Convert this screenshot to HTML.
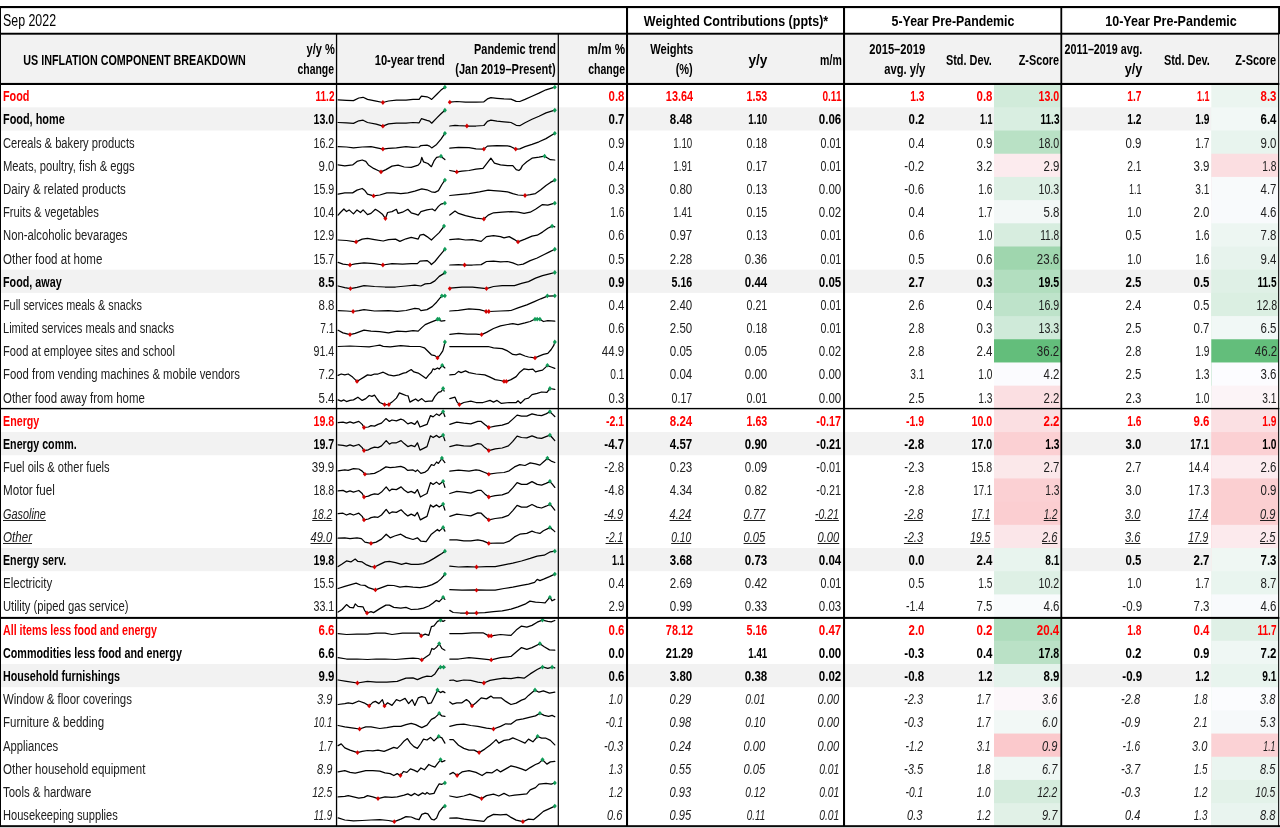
<!DOCTYPE html>
<html><head><meta charset="utf-8"><title>US Inflation Component Breakdown</title>
<style>
html,body{margin:0;padding:0;background:#fff;}
body{width:1280px;height:828px;position:relative;overflow:hidden;font-family:"Liberation Sans",Arial,sans-serif;font-size:14px;color:#202020;}
.a{position:absolute;}
.r{position:absolute;left:1px;width:1277px;height:23.2px;}
.g{background:#f2f2f2;}
.t{position:absolute;white-space:nowrap;line-height:16px;height:16px;}
.l{left:2.1px;transform-origin:0 50%;}
.n{text-align:right;transform-origin:100% 50%;}
.b{font-weight:bold;color:#000;}
.red{color:#f00;}
.i .n{font-style:italic;}
.iu .n,.iu .l{font-style:italic;text-decoration:underline;}
.z{position:absolute;top:0;height:23.2px;}
.h{position:absolute;white-space:nowrap;font-weight:bold;color:#000;text-align:right;line-height:16px;height:16px;transform-origin:100% 50%;}
.h1{position:absolute;white-space:nowrap;line-height:17px;height:17px;color:#000;}
svg{position:absolute;left:0;top:0;overflow:visible;}
</style></head><body>

<svg width="1280" height="828" viewBox="0 0 1280 828"><rect x="0.5" y="34.9" width="1278" height="47.6" fill="#f2f2f2"/><rect x="0.5" y="107.34" width="1278" height="23.19" fill="#f2f2f2"/><rect x="0.5" y="269.69" width="1278" height="23.19" fill="#f2f2f2"/><rect x="0.5" y="432.05" width="1278" height="23.19" fill="#f2f2f2"/><rect x="0.5" y="548.01" width="1278" height="23.19" fill="#f2f2f2"/><rect x="0.5" y="663.98" width="1278" height="23.19" fill="#f2f2f2"/><rect x="994" y="83.15" width="67" height="743.18" fill="#d1ebda"/><rect x="1211.3" y="83.15" width="67.2" height="743.18" fill="#ebf5f0"/><rect x="994" y="107.34" width="67" height="718.98" fill="#d9eee1"/><rect x="1211.3" y="107.34" width="67.2" height="718.98" fill="#f2f8f6"/><rect x="994" y="130.54" width="67" height="695.79" fill="#b9e1c5"/><rect x="1211.3" y="130.54" width="67.2" height="695.79" fill="#e8f4ee"/><rect x="994" y="153.73" width="67" height="672.60" fill="#fcebee"/><rect x="1211.3" y="153.73" width="67.2" height="672.60" fill="#fbdee1"/><rect x="994" y="176.92" width="67" height="649.40" fill="#def0e5"/><rect x="1211.3" y="176.92" width="67.2" height="649.40" fill="#f8fafb"/><rect x="994" y="200.12" width="67" height="626.21" fill="#f3f8f7"/><rect x="1211.3" y="200.12" width="67.2" height="626.21" fill="#f8fafc"/><rect x="994" y="223.31" width="67" height="603.02" fill="#d7eddf"/><rect x="1211.3" y="223.31" width="67.2" height="603.02" fill="#edf6f2"/><rect x="994" y="246.50" width="67" height="579.83" fill="#9fd6ae"/><rect x="1211.3" y="246.50" width="67.2" height="579.83" fill="#e7f3ed"/><rect x="994" y="269.69" width="67" height="556.63" fill="#b2debf"/><rect x="1211.3" y="269.69" width="67.2" height="556.63" fill="#dff0e6"/><rect x="994" y="292.89" width="67" height="533.44" fill="#bee3ca"/><rect x="1211.3" y="292.89" width="67.2" height="533.44" fill="#dbefe2"/><rect x="994" y="316.08" width="67" height="510.25" fill="#cfead9"/><rect x="1211.3" y="316.08" width="67.2" height="510.25" fill="#f1f8f6"/><rect x="994" y="339.27" width="67" height="487.05" fill="#63be7b"/><rect x="1211.3" y="339.27" width="67.2" height="487.05" fill="#63be7b"/><rect x="994" y="362.47" width="67" height="463.86" fill="#fbfbfe"/><rect x="1211.3" y="362.47" width="67.2" height="463.86" fill="#fcfcff"/><rect x="994" y="385.66" width="67" height="440.67" fill="#fbdfe2"/><rect x="1211.3" y="385.66" width="67.2" height="440.67" fill="#fcf4f7"/><rect x="994" y="408.85" width="67" height="417.47" fill="#fbdfe2"/><rect x="1211.3" y="408.85" width="67.2" height="417.47" fill="#fbe0e3"/><rect x="994" y="432.05" width="67" height="394.28" fill="#fbd0d3"/><rect x="1211.3" y="432.05" width="67.2" height="394.28" fill="#fbd0d3"/><rect x="994" y="455.24" width="67" height="371.09" fill="#fbe8ea"/><rect x="1211.3" y="455.24" width="67.2" height="371.09" fill="#fcecef"/><rect x="994" y="478.43" width="67" height="347.89" fill="#fbd0d3"/><rect x="1211.3" y="478.43" width="67.2" height="347.89" fill="#fbcfd1"/><rect x="994" y="501.62" width="67" height="324.70" fill="#fbced1"/><rect x="1211.3" y="501.62" width="67.2" height="324.70" fill="#fbcfd1"/><rect x="994" y="524.82" width="67" height="301.51" fill="#fbe6e9"/><rect x="1211.3" y="524.82" width="67.2" height="301.51" fill="#fceaed"/><rect x="994" y="548.01" width="67" height="278.32" fill="#e8f4ee"/><rect x="1211.3" y="548.01" width="67.2" height="278.32" fill="#eff7f3"/><rect x="994" y="571.20" width="67" height="255.12" fill="#def0e5"/><rect x="1211.3" y="571.20" width="67.2" height="255.12" fill="#e9f5ef"/><rect x="994" y="594.40" width="67" height="231.93" fill="#f9fbfc"/><rect x="1211.3" y="594.40" width="67.2" height="231.93" fill="#f8fafc"/><rect x="994" y="617.59" width="67" height="208.74" fill="#aedcbc"/><rect x="1211.3" y="617.59" width="67.2" height="208.74" fill="#dff0e6"/><rect x="994" y="640.78" width="67" height="185.54" fill="#bae1c6"/><rect x="1211.3" y="640.78" width="67.2" height="185.54" fill="#eff7f4"/><rect x="994" y="663.98" width="67" height="162.35" fill="#e4f2eb"/><rect x="1211.3" y="663.98" width="67.2" height="162.35" fill="#e8f4ee"/><rect x="994" y="687.17" width="67" height="139.16" fill="#fcf7fa"/><rect x="1211.3" y="687.17" width="67.2" height="139.16" fill="#fbfcfe"/><rect x="994" y="710.36" width="67" height="115.97" fill="#f2f8f6"/><rect x="1211.3" y="710.36" width="67.2" height="115.97" fill="#f6f9fa"/><rect x="994" y="733.55" width="67" height="92.77" fill="#fbc9cc"/><rect x="1211.3" y="733.55" width="67.2" height="92.77" fill="#fbd2d5"/><rect x="994" y="756.75" width="67" height="69.58" fill="#eff7f4"/><rect x="1211.3" y="756.75" width="67.2" height="69.58" fill="#eaf5f0"/><rect x="994" y="779.94" width="67" height="46.39" fill="#d5ecdd"/><rect x="1211.3" y="779.94" width="67.2" height="46.39" fill="#e3f2e9"/><rect x="994" y="803.13" width="67" height="23.19" fill="#e1f1e7"/><rect x="1211.3" y="803.13" width="67.2" height="23.19" fill="#e9f4ef"/></svg>
<div class="r b red" style="top:84.15px">
<span class="t l" style="top:3.85px;transform:scaleX(0.774)">Food</span>
<span class="t n" style="top:3.85px;right:943.8px;transform:scaleX(0.717)">11.2</span>
<span class="t n" style="top:3.85px;right:653.4px;transform:scaleX(0.817)">0.8</span>
<span class="t n" style="top:3.85px;right:585.3px;transform:scaleX(0.776)">13.64</span>
<span class="t n" style="top:3.85px;right:510.6px;transform:scaleX(0.760)">1.53</span>
<span class="t n" style="top:3.85px;right:437.0px;transform:scaleX(0.717)">0.11</span>
<span class="t n" style="top:3.85px;right:353.4px;transform:scaleX(0.729)">1.3</span>
<span class="t n" style="top:3.85px;right:285.7px;transform:scaleX(0.817)">0.8</span>
<span class="t n" style="top:3.85px;right:218.8px;transform:scaleX(0.760)">13.0</span>
<span class="t n" style="top:3.85px;right:136.2px;transform:scaleX(0.729)">1.7</span>
<span class="t n" style="top:3.85px;right:68.4px;transform:scaleX(0.642)">1.1</span>
<span class="t n" style="top:3.85px;right:1.2px;transform:scaleX(0.817)">8.3</span>
</div>
<div class="r b" style="top:107.34px">
<span class="t l" style="top:3.66px;transform:scaleX(0.778)">Food, home</span>
<span class="t n" style="top:3.66px;right:943.8px;transform:scaleX(0.760)">13.0</span>
<span class="t n" style="top:3.66px;right:653.4px;transform:scaleX(0.817)">0.7</span>
<span class="t n" style="top:3.66px;right:585.3px;transform:scaleX(0.822)">8.48</span>
<span class="t n" style="top:3.66px;right:510.6px;transform:scaleX(0.697)">1.10</span>
<span class="t n" style="top:3.66px;right:437.0px;transform:scaleX(0.822)">0.06</span>
<span class="t n" style="top:3.66px;right:353.4px;transform:scaleX(0.817)">0.2</span>
<span class="t n" style="top:3.66px;right:285.7px;transform:scaleX(0.642)">1.1</span>
<span class="t n" style="top:3.66px;right:218.8px;transform:scaleX(0.717)">11.3</span>
<span class="t n" style="top:3.66px;right:136.2px;transform:scaleX(0.729)">1.2</span>
<span class="t n" style="top:3.66px;right:68.4px;transform:scaleX(0.729)">1.9</span>
<span class="t n" style="top:3.66px;right:1.2px;transform:scaleX(0.817)">6.4</span>
</div>
<div class="r" style="top:130.54px">
<span class="t l" style="top:4.46px;transform:scaleX(0.798)">Cereals &amp; bakery products</span>
<span class="t n" style="top:4.46px;right:943.8px;transform:scaleX(0.760)">16.2</span>
<span class="t n" style="top:4.46px;right:653.4px;transform:scaleX(0.817)">0.9</span>
<span class="t n" style="top:4.46px;right:585.3px;transform:scaleX(0.697)">1.10</span>
<span class="t n" style="top:4.46px;right:510.6px;transform:scaleX(0.760)">0.18</span>
<span class="t n" style="top:4.46px;right:437.0px;transform:scaleX(0.760)">0.01</span>
<span class="t n" style="top:4.46px;right:353.4px;transform:scaleX(0.817)">0.4</span>
<span class="t n" style="top:4.46px;right:285.7px;transform:scaleX(0.817)">0.9</span>
<span class="t n" style="top:4.46px;right:218.8px;transform:scaleX(0.760)">18.0</span>
<span class="t n" style="top:4.46px;right:136.2px;transform:scaleX(0.817)">0.9</span>
<span class="t n" style="top:4.46px;right:68.4px;transform:scaleX(0.729)">1.7</span>
<span class="t n" style="top:4.46px;right:1.2px;transform:scaleX(0.817)">9.0</span>
</div>
<div class="r" style="top:153.73px">
<span class="t l" style="top:4.27px;transform:scaleX(0.803)">Meats, poultry, fish &amp; eggs</span>
<span class="t n" style="top:4.27px;right:943.8px;transform:scaleX(0.817)">9.0</span>
<span class="t n" style="top:4.27px;right:653.4px;transform:scaleX(0.817)">0.4</span>
<span class="t n" style="top:4.27px;right:585.3px;transform:scaleX(0.697)">1.91</span>
<span class="t n" style="top:4.27px;right:510.6px;transform:scaleX(0.760)">0.17</span>
<span class="t n" style="top:4.27px;right:437.0px;transform:scaleX(0.760)">0.01</span>
<span class="t n" style="top:4.27px;right:353.4px;transform:scaleX(0.821)">-0.2</span>
<span class="t n" style="top:4.27px;right:285.7px;transform:scaleX(0.817)">3.2</span>
<span class="t n" style="top:4.27px;right:218.8px;transform:scaleX(0.817)">2.9</span>
<span class="t n" style="top:4.27px;right:136.2px;transform:scaleX(0.729)">2.1</span>
<span class="t n" style="top:4.27px;right:68.4px;transform:scaleX(0.817)">3.9</span>
<span class="t n" style="top:4.27px;right:1.2px;transform:scaleX(0.729)">1.8</span>
</div>
<div class="r" style="top:176.92px">
<span class="t l" style="top:4.08px;transform:scaleX(0.818)">Dairy &amp; related products</span>
<span class="t n" style="top:4.08px;right:943.8px;transform:scaleX(0.760)">15.9</span>
<span class="t n" style="top:4.08px;right:653.4px;transform:scaleX(0.817)">0.3</span>
<span class="t n" style="top:4.08px;right:585.3px;transform:scaleX(0.822)">0.80</span>
<span class="t n" style="top:4.08px;right:510.6px;transform:scaleX(0.760)">0.13</span>
<span class="t n" style="top:4.08px;right:437.0px;transform:scaleX(0.822)">0.00</span>
<span class="t n" style="top:4.08px;right:353.4px;transform:scaleX(0.821)">-0.6</span>
<span class="t n" style="top:4.08px;right:285.7px;transform:scaleX(0.729)">1.6</span>
<span class="t n" style="top:4.08px;right:218.8px;transform:scaleX(0.760)">10.3</span>
<span class="t n" style="top:4.08px;right:136.2px;transform:scaleX(0.642)">1.1</span>
<span class="t n" style="top:4.08px;right:68.4px;transform:scaleX(0.729)">3.1</span>
<span class="t n" style="top:4.08px;right:1.2px;transform:scaleX(0.817)">4.7</span>
</div>
<div class="r" style="top:200.12px">
<span class="t l" style="top:3.88px;transform:scaleX(0.800)">Fruits &amp; vegetables</span>
<span class="t n" style="top:3.88px;right:943.8px;transform:scaleX(0.760)">10.4</span>
<span class="t n" style="top:3.88px;right:653.4px;transform:scaleX(0.729)">1.6</span>
<span class="t n" style="top:3.88px;right:585.3px;transform:scaleX(0.697)">1.41</span>
<span class="t n" style="top:3.88px;right:510.6px;transform:scaleX(0.760)">0.15</span>
<span class="t n" style="top:3.88px;right:437.0px;transform:scaleX(0.822)">0.02</span>
<span class="t n" style="top:3.88px;right:353.4px;transform:scaleX(0.817)">0.4</span>
<span class="t n" style="top:3.88px;right:285.7px;transform:scaleX(0.729)">1.7</span>
<span class="t n" style="top:3.88px;right:218.8px;transform:scaleX(0.817)">5.8</span>
<span class="t n" style="top:3.88px;right:136.2px;transform:scaleX(0.729)">1.0</span>
<span class="t n" style="top:3.88px;right:68.4px;transform:scaleX(0.817)">2.0</span>
<span class="t n" style="top:3.88px;right:1.2px;transform:scaleX(0.817)">4.6</span>
</div>
<div class="r" style="top:223.31px">
<span class="t l" style="top:3.69px;transform:scaleX(0.808)">Non-alcoholic bevarages</span>
<span class="t n" style="top:3.69px;right:943.8px;transform:scaleX(0.760)">12.9</span>
<span class="t n" style="top:3.69px;right:653.4px;transform:scaleX(0.817)">0.6</span>
<span class="t n" style="top:3.69px;right:585.3px;transform:scaleX(0.822)">0.97</span>
<span class="t n" style="top:3.69px;right:510.6px;transform:scaleX(0.760)">0.13</span>
<span class="t n" style="top:3.69px;right:437.0px;transform:scaleX(0.760)">0.01</span>
<span class="t n" style="top:3.69px;right:353.4px;transform:scaleX(0.817)">0.6</span>
<span class="t n" style="top:3.69px;right:285.7px;transform:scaleX(0.729)">1.0</span>
<span class="t n" style="top:3.69px;right:218.8px;transform:scaleX(0.725)">11.8</span>
<span class="t n" style="top:3.69px;right:136.2px;transform:scaleX(0.817)">0.5</span>
<span class="t n" style="top:3.69px;right:68.4px;transform:scaleX(0.729)">1.6</span>
<span class="t n" style="top:3.69px;right:1.2px;transform:scaleX(0.817)">7.8</span>
</div>
<div class="r" style="top:246.50px">
<span class="t l" style="top:4.50px;transform:scaleX(0.824)">Other food at home</span>
<span class="t n" style="top:4.50px;right:943.8px;transform:scaleX(0.760)">15.7</span>
<span class="t n" style="top:4.50px;right:653.4px;transform:scaleX(0.817)">0.5</span>
<span class="t n" style="top:4.50px;right:585.3px;transform:scaleX(0.822)">2.28</span>
<span class="t n" style="top:4.50px;right:510.6px;transform:scaleX(0.822)">0.36</span>
<span class="t n" style="top:4.50px;right:437.0px;transform:scaleX(0.760)">0.01</span>
<span class="t n" style="top:4.50px;right:353.4px;transform:scaleX(0.817)">0.5</span>
<span class="t n" style="top:4.50px;right:285.7px;transform:scaleX(0.817)">0.6</span>
<span class="t n" style="top:4.50px;right:218.8px;transform:scaleX(0.822)">23.6</span>
<span class="t n" style="top:4.50px;right:136.2px;transform:scaleX(0.729)">1.0</span>
<span class="t n" style="top:4.50px;right:68.4px;transform:scaleX(0.729)">1.6</span>
<span class="t n" style="top:4.50px;right:1.2px;transform:scaleX(0.817)">9.4</span>
</div>
<div class="r b" style="top:269.69px">
<span class="t l" style="top:4.31px;transform:scaleX(0.769)">Food, away</span>
<span class="t n" style="top:4.31px;right:943.8px;transform:scaleX(0.817)">8.5</span>
<span class="t n" style="top:4.31px;right:653.4px;transform:scaleX(0.817)">0.9</span>
<span class="t n" style="top:4.31px;right:585.3px;transform:scaleX(0.760)">5.16</span>
<span class="t n" style="top:4.31px;right:510.6px;transform:scaleX(0.822)">0.44</span>
<span class="t n" style="top:4.31px;right:437.0px;transform:scaleX(0.822)">0.05</span>
<span class="t n" style="top:4.31px;right:353.4px;transform:scaleX(0.817)">2.7</span>
<span class="t n" style="top:4.31px;right:285.7px;transform:scaleX(0.817)">0.3</span>
<span class="t n" style="top:4.31px;right:218.8px;transform:scaleX(0.760)">19.5</span>
<span class="t n" style="top:4.31px;right:136.2px;transform:scaleX(0.817)">2.5</span>
<span class="t n" style="top:4.31px;right:68.4px;transform:scaleX(0.817)">0.5</span>
<span class="t n" style="top:4.31px;right:1.2px;transform:scaleX(0.717)">11.5</span>
</div>
<div class="r" style="top:292.89px">
<span class="t l" style="top:4.11px;transform:scaleX(0.773)">Full services meals &amp; snacks</span>
<span class="t n" style="top:4.11px;right:943.8px;transform:scaleX(0.817)">8.8</span>
<span class="t n" style="top:4.11px;right:653.4px;transform:scaleX(0.817)">0.4</span>
<span class="t n" style="top:4.11px;right:585.3px;transform:scaleX(0.822)">2.40</span>
<span class="t n" style="top:4.11px;right:510.6px;transform:scaleX(0.760)">0.21</span>
<span class="t n" style="top:4.11px;right:437.0px;transform:scaleX(0.760)">0.01</span>
<span class="t n" style="top:4.11px;right:353.4px;transform:scaleX(0.817)">2.6</span>
<span class="t n" style="top:4.11px;right:285.7px;transform:scaleX(0.817)">0.4</span>
<span class="t n" style="top:4.11px;right:218.8px;transform:scaleX(0.760)">16.9</span>
<span class="t n" style="top:4.11px;right:136.2px;transform:scaleX(0.817)">2.4</span>
<span class="t n" style="top:4.11px;right:68.4px;transform:scaleX(0.817)">0.5</span>
<span class="t n" style="top:4.11px;right:1.2px;transform:scaleX(0.760)">12.8</span>
</div>
<div class="r" style="top:316.08px">
<span class="t l" style="top:3.92px;transform:scaleX(0.791)">Limited services meals and snacks</span>
<span class="t n" style="top:3.92px;right:943.8px;transform:scaleX(0.729)">7.1</span>
<span class="t n" style="top:3.92px;right:653.4px;transform:scaleX(0.817)">0.6</span>
<span class="t n" style="top:3.92px;right:585.3px;transform:scaleX(0.822)">2.50</span>
<span class="t n" style="top:3.92px;right:510.6px;transform:scaleX(0.760)">0.18</span>
<span class="t n" style="top:3.92px;right:437.0px;transform:scaleX(0.760)">0.01</span>
<span class="t n" style="top:3.92px;right:353.4px;transform:scaleX(0.817)">2.8</span>
<span class="t n" style="top:3.92px;right:285.7px;transform:scaleX(0.817)">0.3</span>
<span class="t n" style="top:3.92px;right:218.8px;transform:scaleX(0.760)">13.3</span>
<span class="t n" style="top:3.92px;right:136.2px;transform:scaleX(0.817)">2.5</span>
<span class="t n" style="top:3.92px;right:68.4px;transform:scaleX(0.817)">0.7</span>
<span class="t n" style="top:3.92px;right:1.2px;transform:scaleX(0.817)">6.5</span>
</div>
<div class="r" style="top:339.27px">
<span class="t l" style="top:3.73px;transform:scaleX(0.795)">Food at employee sites and school</span>
<span class="t n" style="top:3.73px;right:943.8px;transform:scaleX(0.760)">91.4</span>
<span class="t n" style="top:3.73px;right:653.4px;transform:scaleX(0.822)">44.9</span>
<span class="t n" style="top:3.73px;right:585.3px;transform:scaleX(0.822)">0.05</span>
<span class="t n" style="top:3.73px;right:510.6px;transform:scaleX(0.822)">0.05</span>
<span class="t n" style="top:3.73px;right:437.0px;transform:scaleX(0.822)">0.02</span>
<span class="t n" style="top:3.73px;right:353.4px;transform:scaleX(0.817)">2.8</span>
<span class="t n" style="top:3.73px;right:285.7px;transform:scaleX(0.817)">2.4</span>
<span class="t n" style="top:3.73px;right:218.8px;transform:scaleX(0.822)">36.2</span>
<span class="t n" style="top:3.73px;right:136.2px;transform:scaleX(0.817)">2.8</span>
<span class="t n" style="top:3.73px;right:68.4px;transform:scaleX(0.729)">1.9</span>
<span class="t n" style="top:3.73px;right:1.2px;transform:scaleX(0.822)">46.2</span>
</div>
<div class="r" style="top:362.47px">
<span class="t l" style="top:3.53px;transform:scaleX(0.810)">Food from vending machines &amp; mobile vendors</span>
<span class="t n" style="top:3.53px;right:943.8px;transform:scaleX(0.817)">7.2</span>
<span class="t n" style="top:3.53px;right:653.4px;transform:scaleX(0.729)">0.1</span>
<span class="t n" style="top:3.53px;right:585.3px;transform:scaleX(0.822)">0.04</span>
<span class="t n" style="top:3.53px;right:510.6px;transform:scaleX(0.822)">0.00</span>
<span class="t n" style="top:3.53px;right:437.0px;transform:scaleX(0.822)">0.00</span>
<span class="t n" style="top:3.53px;right:353.4px;transform:scaleX(0.729)">3.1</span>
<span class="t n" style="top:3.53px;right:285.7px;transform:scaleX(0.729)">1.0</span>
<span class="t n" style="top:3.53px;right:218.8px;transform:scaleX(0.817)">4.2</span>
<span class="t n" style="top:3.53px;right:136.2px;transform:scaleX(0.817)">2.5</span>
<span class="t n" style="top:3.53px;right:68.4px;transform:scaleX(0.729)">1.3</span>
<span class="t n" style="top:3.53px;right:1.2px;transform:scaleX(0.817)">3.6</span>
</div>
<div class="r" style="top:385.66px">
<span class="t l" style="top:4.34px;transform:scaleX(0.817)">Other food away from home</span>
<span class="t n" style="top:4.34px;right:943.8px;transform:scaleX(0.817)">5.4</span>
<span class="t n" style="top:4.34px;right:653.4px;transform:scaleX(0.817)">0.3</span>
<span class="t n" style="top:4.34px;right:585.3px;transform:scaleX(0.760)">0.17</span>
<span class="t n" style="top:4.34px;right:510.6px;transform:scaleX(0.760)">0.01</span>
<span class="t n" style="top:4.34px;right:437.0px;transform:scaleX(0.822)">0.00</span>
<span class="t n" style="top:4.34px;right:353.4px;transform:scaleX(0.817)">2.5</span>
<span class="t n" style="top:4.34px;right:285.7px;transform:scaleX(0.729)">1.3</span>
<span class="t n" style="top:4.34px;right:218.8px;transform:scaleX(0.817)">2.2</span>
<span class="t n" style="top:4.34px;right:136.2px;transform:scaleX(0.817)">2.3</span>
<span class="t n" style="top:4.34px;right:68.4px;transform:scaleX(0.729)">1.0</span>
<span class="t n" style="top:4.34px;right:1.2px;transform:scaleX(0.729)">3.1</span>
</div>
<div class="r b red" style="top:408.85px">
<span class="t l" style="top:4.15px;transform:scaleX(0.765)">Energy</span>
<span class="t n" style="top:4.15px;right:943.8px;transform:scaleX(0.760)">19.8</span>
<span class="t n" style="top:4.15px;right:653.4px;transform:scaleX(0.750)">-2.1</span>
<span class="t n" style="top:4.15px;right:585.3px;transform:scaleX(0.822)">8.24</span>
<span class="t n" style="top:4.15px;right:510.6px;transform:scaleX(0.760)">1.63</span>
<span class="t n" style="top:4.15px;right:437.0px;transform:scaleX(0.771)">-0.17</span>
<span class="t n" style="top:4.15px;right:353.4px;transform:scaleX(0.750)">-1.9</span>
<span class="t n" style="top:4.15px;right:285.7px;transform:scaleX(0.760)">10.0</span>
<span class="t n" style="top:4.15px;right:218.8px;transform:scaleX(0.817)">2.2</span>
<span class="t n" style="top:4.15px;right:136.2px;transform:scaleX(0.729)">1.6</span>
<span class="t n" style="top:4.15px;right:68.4px;transform:scaleX(0.817)">9.6</span>
<span class="t n" style="top:4.15px;right:1.2px;transform:scaleX(0.729)">1.9</span>
</div>
<div class="r b" style="top:432.05px">
<span class="t l" style="top:3.95px;transform:scaleX(0.763)">Energy comm.</span>
<span class="t n" style="top:3.95px;right:943.8px;transform:scaleX(0.760)">19.7</span>
<span class="t n" style="top:3.95px;right:653.4px;transform:scaleX(0.821)">-4.7</span>
<span class="t n" style="top:3.95px;right:585.3px;transform:scaleX(0.822)">4.57</span>
<span class="t n" style="top:3.95px;right:510.6px;transform:scaleX(0.822)">0.90</span>
<span class="t n" style="top:3.95px;right:437.0px;transform:scaleX(0.771)">-0.21</span>
<span class="t n" style="top:3.95px;right:353.4px;transform:scaleX(0.821)">-2.8</span>
<span class="t n" style="top:3.95px;right:285.7px;transform:scaleX(0.760)">17.0</span>
<span class="t n" style="top:3.95px;right:218.8px;transform:scaleX(0.729)">1.3</span>
<span class="t n" style="top:3.95px;right:136.2px;transform:scaleX(0.817)">3.0</span>
<span class="t n" style="top:3.95px;right:68.4px;transform:scaleX(0.697)">17.1</span>
<span class="t n" style="top:3.95px;right:1.2px;transform:scaleX(0.729)">1.0</span>
</div>
<div class="r" style="top:455.24px">
<span class="t l" style="top:3.76px;transform:scaleX(0.792)">Fuel oils &amp; other fuels</span>
<span class="t n" style="top:3.76px;right:943.8px;transform:scaleX(0.822)">39.9</span>
<span class="t n" style="top:3.76px;right:653.4px;transform:scaleX(0.821)">-2.8</span>
<span class="t n" style="top:3.76px;right:585.3px;transform:scaleX(0.822)">0.23</span>
<span class="t n" style="top:3.76px;right:510.6px;transform:scaleX(0.822)">0.09</span>
<span class="t n" style="top:3.76px;right:437.0px;transform:scaleX(0.771)">-0.01</span>
<span class="t n" style="top:3.76px;right:353.4px;transform:scaleX(0.821)">-2.3</span>
<span class="t n" style="top:3.76px;right:285.7px;transform:scaleX(0.760)">15.8</span>
<span class="t n" style="top:3.76px;right:218.8px;transform:scaleX(0.817)">2.7</span>
<span class="t n" style="top:3.76px;right:136.2px;transform:scaleX(0.817)">2.7</span>
<span class="t n" style="top:3.76px;right:68.4px;transform:scaleX(0.760)">14.4</span>
<span class="t n" style="top:3.76px;right:1.2px;transform:scaleX(0.817)">2.6</span>
</div>
<div class="r" style="top:478.43px">
<span class="t l" style="top:3.57px;transform:scaleX(0.831)">Motor fuel</span>
<span class="t n" style="top:3.57px;right:943.8px;transform:scaleX(0.760)">18.8</span>
<span class="t n" style="top:3.57px;right:653.4px;transform:scaleX(0.821)">-4.8</span>
<span class="t n" style="top:3.57px;right:585.3px;transform:scaleX(0.822)">4.34</span>
<span class="t n" style="top:3.57px;right:510.6px;transform:scaleX(0.822)">0.82</span>
<span class="t n" style="top:3.57px;right:437.0px;transform:scaleX(0.771)">-0.21</span>
<span class="t n" style="top:3.57px;right:353.4px;transform:scaleX(0.821)">-2.8</span>
<span class="t n" style="top:3.57px;right:285.7px;transform:scaleX(0.697)">17.1</span>
<span class="t n" style="top:3.57px;right:218.8px;transform:scaleX(0.729)">1.3</span>
<span class="t n" style="top:3.57px;right:136.2px;transform:scaleX(0.817)">3.0</span>
<span class="t n" style="top:3.57px;right:68.4px;transform:scaleX(0.760)">17.3</span>
<span class="t n" style="top:3.57px;right:1.2px;transform:scaleX(0.817)">0.9</span>
</div>
<div class="r iu" style="top:501.62px">
<span class="t l" style="top:4.38px;transform:scaleX(0.776)">Gasoline</span>
<span class="t n" style="top:4.38px;right:945.6px;transform:scaleX(0.737)">18.2</span>
<span class="t n" style="top:4.38px;right:655.2px;transform:scaleX(0.796)">-4.9</span>
<span class="t n" style="top:4.38px;right:587.1px;transform:scaleX(0.797)">4.24</span>
<span class="t n" style="top:4.38px;right:512.4px;transform:scaleX(0.797)">0.77</span>
<span class="t n" style="top:4.38px;right:438.8px;transform:scaleX(0.748)">-0.21</span>
<span class="t n" style="top:4.38px;right:355.2px;transform:scaleX(0.796)">-2.8</span>
<span class="t n" style="top:4.38px;right:287.5px;transform:scaleX(0.676)">17.1</span>
<span class="t n" style="top:4.38px;right:220.6px;transform:scaleX(0.707)">1.2</span>
<span class="t n" style="top:4.38px;right:138.0px;transform:scaleX(0.792)">3.0</span>
<span class="t n" style="top:4.38px;right:70.2px;transform:scaleX(0.737)">17.4</span>
<span class="t n" style="top:4.38px;right:3.0px;transform:scaleX(0.792)">0.9</span>
</div>
<div class="r iu" style="top:524.82px">
<span class="t l" style="top:4.18px;transform:scaleX(0.828)">Other</span>
<span class="t n" style="top:4.18px;right:945.6px;transform:scaleX(0.797)">49.0</span>
<span class="t n" style="top:4.18px;right:655.2px;transform:scaleX(0.728)">-2.1</span>
<span class="t n" style="top:4.18px;right:587.1px;transform:scaleX(0.737)">0.10</span>
<span class="t n" style="top:4.18px;right:512.4px;transform:scaleX(0.797)">0.05</span>
<span class="t n" style="top:4.18px;right:438.8px;transform:scaleX(0.797)">0.00</span>
<span class="t n" style="top:4.18px;right:355.2px;transform:scaleX(0.796)">-2.3</span>
<span class="t n" style="top:4.18px;right:287.5px;transform:scaleX(0.737)">19.5</span>
<span class="t n" style="top:4.18px;right:220.6px;transform:scaleX(0.792)">2.6</span>
<span class="t n" style="top:4.18px;right:138.0px;transform:scaleX(0.792)">3.6</span>
<span class="t n" style="top:4.18px;right:70.2px;transform:scaleX(0.737)">17.9</span>
<span class="t n" style="top:4.18px;right:3.0px;transform:scaleX(0.792)">2.5</span>
</div>
<div class="r b" style="top:548.01px">
<span class="t l" style="top:3.99px;transform:scaleX(0.763)">Energy serv.</span>
<span class="t n" style="top:3.99px;right:943.8px;transform:scaleX(0.760)">19.8</span>
<span class="t n" style="top:3.99px;right:653.4px;transform:scaleX(0.642)">1.1</span>
<span class="t n" style="top:3.99px;right:585.3px;transform:scaleX(0.822)">3.68</span>
<span class="t n" style="top:3.99px;right:510.6px;transform:scaleX(0.822)">0.73</span>
<span class="t n" style="top:3.99px;right:437.0px;transform:scaleX(0.822)">0.04</span>
<span class="t n" style="top:3.99px;right:353.4px;transform:scaleX(0.817)">0.0</span>
<span class="t n" style="top:3.99px;right:285.7px;transform:scaleX(0.817)">2.4</span>
<span class="t n" style="top:3.99px;right:218.8px;transform:scaleX(0.729)">8.1</span>
<span class="t n" style="top:3.99px;right:136.2px;transform:scaleX(0.817)">0.5</span>
<span class="t n" style="top:3.99px;right:68.4px;transform:scaleX(0.817)">2.7</span>
<span class="t n" style="top:3.99px;right:1.2px;transform:scaleX(0.817)">7.3</span>
</div>
<div class="r" style="top:571.20px">
<span class="t l" style="top:3.80px;transform:scaleX(0.823)">Electricity</span>
<span class="t n" style="top:3.80px;right:943.8px;transform:scaleX(0.760)">15.5</span>
<span class="t n" style="top:3.80px;right:653.4px;transform:scaleX(0.817)">0.4</span>
<span class="t n" style="top:3.80px;right:585.3px;transform:scaleX(0.822)">2.69</span>
<span class="t n" style="top:3.80px;right:510.6px;transform:scaleX(0.822)">0.42</span>
<span class="t n" style="top:3.80px;right:437.0px;transform:scaleX(0.760)">0.01</span>
<span class="t n" style="top:3.80px;right:353.4px;transform:scaleX(0.817)">0.5</span>
<span class="t n" style="top:3.80px;right:285.7px;transform:scaleX(0.729)">1.5</span>
<span class="t n" style="top:3.80px;right:218.8px;transform:scaleX(0.760)">10.2</span>
<span class="t n" style="top:3.80px;right:136.2px;transform:scaleX(0.729)">1.0</span>
<span class="t n" style="top:3.80px;right:68.4px;transform:scaleX(0.729)">1.7</span>
<span class="t n" style="top:3.80px;right:1.2px;transform:scaleX(0.817)">8.7</span>
</div>
<div class="r" style="top:594.40px">
<span class="t l" style="top:3.60px;transform:scaleX(0.802)">Utility (piped gas service)</span>
<span class="t n" style="top:3.60px;right:943.8px;transform:scaleX(0.760)">33.1</span>
<span class="t n" style="top:3.60px;right:653.4px;transform:scaleX(0.817)">2.9</span>
<span class="t n" style="top:3.60px;right:585.3px;transform:scaleX(0.822)">0.99</span>
<span class="t n" style="top:3.60px;right:510.6px;transform:scaleX(0.822)">0.33</span>
<span class="t n" style="top:3.60px;right:437.0px;transform:scaleX(0.822)">0.03</span>
<span class="t n" style="top:3.60px;right:353.4px;transform:scaleX(0.750)">-1.4</span>
<span class="t n" style="top:3.60px;right:285.7px;transform:scaleX(0.817)">7.5</span>
<span class="t n" style="top:3.60px;right:218.8px;transform:scaleX(0.817)">4.6</span>
<span class="t n" style="top:3.60px;right:136.2px;transform:scaleX(0.821)">-0.9</span>
<span class="t n" style="top:3.60px;right:68.4px;transform:scaleX(0.817)">7.3</span>
<span class="t n" style="top:3.60px;right:1.2px;transform:scaleX(0.817)">4.6</span>
</div>
<div class="r b red" style="top:617.59px">
<span class="t l" style="top:4.41px;transform:scaleX(0.761)">All items less food and energy</span>
<span class="t n" style="top:4.41px;right:943.8px;transform:scaleX(0.817)">6.6</span>
<span class="t n" style="top:4.41px;right:653.4px;transform:scaleX(0.817)">0.6</span>
<span class="t n" style="top:4.41px;right:585.3px;transform:scaleX(0.776)">78.12</span>
<span class="t n" style="top:4.41px;right:510.6px;transform:scaleX(0.760)">5.16</span>
<span class="t n" style="top:4.41px;right:437.0px;transform:scaleX(0.822)">0.47</span>
<span class="t n" style="top:4.41px;right:353.4px;transform:scaleX(0.817)">2.0</span>
<span class="t n" style="top:4.41px;right:285.7px;transform:scaleX(0.817)">0.2</span>
<span class="t n" style="top:4.41px;right:218.8px;transform:scaleX(0.822)">20.4</span>
<span class="t n" style="top:4.41px;right:136.2px;transform:scaleX(0.729)">1.8</span>
<span class="t n" style="top:4.41px;right:68.4px;transform:scaleX(0.817)">0.4</span>
<span class="t n" style="top:4.41px;right:1.2px;transform:scaleX(0.717)">11.7</span>
</div>
<div class="r b" style="top:640.78px">
<span class="t l" style="top:4.22px;transform:scaleX(0.769)">Commodities less food and energy</span>
<span class="t n" style="top:4.22px;right:943.8px;transform:scaleX(0.817)">6.6</span>
<span class="t n" style="top:4.22px;right:653.4px;transform:scaleX(0.817)">0.0</span>
<span class="t n" style="top:4.22px;right:585.3px;transform:scaleX(0.776)">21.29</span>
<span class="t n" style="top:4.22px;right:510.6px;transform:scaleX(0.697)">1.41</span>
<span class="t n" style="top:4.22px;right:437.0px;transform:scaleX(0.822)">0.00</span>
<span class="t n" style="top:4.22px;right:353.4px;transform:scaleX(0.821)">-0.3</span>
<span class="t n" style="top:4.22px;right:285.7px;transform:scaleX(0.817)">0.4</span>
<span class="t n" style="top:4.22px;right:218.8px;transform:scaleX(0.760)">17.8</span>
<span class="t n" style="top:4.22px;right:136.2px;transform:scaleX(0.817)">0.2</span>
<span class="t n" style="top:4.22px;right:68.4px;transform:scaleX(0.817)">0.9</span>
<span class="t n" style="top:4.22px;right:1.2px;transform:scaleX(0.817)">7.2</span>
</div>
<div class="r b" style="top:663.98px">
<span class="t l" style="top:4.02px;transform:scaleX(0.767)">Household furnishings</span>
<span class="t n" style="top:4.02px;right:943.8px;transform:scaleX(0.817)">9.9</span>
<span class="t n" style="top:4.02px;right:653.4px;transform:scaleX(0.817)">0.6</span>
<span class="t n" style="top:4.02px;right:585.3px;transform:scaleX(0.822)">3.80</span>
<span class="t n" style="top:4.02px;right:510.6px;transform:scaleX(0.822)">0.38</span>
<span class="t n" style="top:4.02px;right:437.0px;transform:scaleX(0.822)">0.02</span>
<span class="t n" style="top:4.02px;right:353.4px;transform:scaleX(0.821)">-0.8</span>
<span class="t n" style="top:4.02px;right:285.7px;transform:scaleX(0.729)">1.2</span>
<span class="t n" style="top:4.02px;right:218.8px;transform:scaleX(0.817)">8.9</span>
<span class="t n" style="top:4.02px;right:136.2px;transform:scaleX(0.821)">-0.9</span>
<span class="t n" style="top:4.02px;right:68.4px;transform:scaleX(0.729)">1.2</span>
<span class="t n" style="top:4.02px;right:1.2px;transform:scaleX(0.729)">9.1</span>
</div>
<div class="r i" style="top:687.17px">
<span class="t l" style="top:3.83px;transform:scaleX(0.816)">Window &amp; floor coverings</span>
<span class="t n" style="top:3.83px;right:945.6px;transform:scaleX(0.792)">3.9</span>
<span class="t n" style="top:3.83px;right:655.2px;transform:scaleX(0.707)">1.0</span>
<span class="t n" style="top:3.83px;right:587.1px;transform:scaleX(0.797)">0.29</span>
<span class="t n" style="top:3.83px;right:512.4px;transform:scaleX(0.737)">0.01</span>
<span class="t n" style="top:3.83px;right:438.8px;transform:scaleX(0.797)">0.00</span>
<span class="t n" style="top:3.83px;right:355.2px;transform:scaleX(0.796)">-2.3</span>
<span class="t n" style="top:3.83px;right:287.5px;transform:scaleX(0.707)">1.7</span>
<span class="t n" style="top:3.83px;right:220.6px;transform:scaleX(0.792)">3.6</span>
<span class="t n" style="top:3.83px;right:138.0px;transform:scaleX(0.796)">-2.8</span>
<span class="t n" style="top:3.83px;right:70.2px;transform:scaleX(0.707)">1.8</span>
<span class="t n" style="top:3.83px;right:3.0px;transform:scaleX(0.792)">3.8</span>
</div>
<div class="r i" style="top:710.36px">
<span class="t l" style="top:3.64px;transform:scaleX(0.822)">Furniture &amp; bedding</span>
<span class="t n" style="top:3.64px;right:945.6px;transform:scaleX(0.676)">10.1</span>
<span class="t n" style="top:3.64px;right:655.2px;transform:scaleX(0.728)">-0.1</span>
<span class="t n" style="top:3.64px;right:587.1px;transform:scaleX(0.797)">0.98</span>
<span class="t n" style="top:3.64px;right:512.4px;transform:scaleX(0.737)">0.10</span>
<span class="t n" style="top:3.64px;right:438.8px;transform:scaleX(0.797)">0.00</span>
<span class="t n" style="top:3.64px;right:355.2px;transform:scaleX(0.796)">-0.3</span>
<span class="t n" style="top:3.64px;right:287.5px;transform:scaleX(0.707)">1.7</span>
<span class="t n" style="top:3.64px;right:220.6px;transform:scaleX(0.792)">6.0</span>
<span class="t n" style="top:3.64px;right:138.0px;transform:scaleX(0.796)">-0.9</span>
<span class="t n" style="top:3.64px;right:70.2px;transform:scaleX(0.707)">2.1</span>
<span class="t n" style="top:3.64px;right:3.0px;transform:scaleX(0.792)">5.3</span>
</div>
<div class="r i" style="top:733.55px">
<span class="t l" style="top:4.45px;transform:scaleX(0.804)">Appliances</span>
<span class="t n" style="top:4.45px;right:945.6px;transform:scaleX(0.707)">1.7</span>
<span class="t n" style="top:4.45px;right:655.2px;transform:scaleX(0.796)">-0.3</span>
<span class="t n" style="top:4.45px;right:587.1px;transform:scaleX(0.797)">0.24</span>
<span class="t n" style="top:4.45px;right:512.4px;transform:scaleX(0.797)">0.00</span>
<span class="t n" style="top:4.45px;right:438.8px;transform:scaleX(0.797)">0.00</span>
<span class="t n" style="top:4.45px;right:355.2px;transform:scaleX(0.728)">-1.2</span>
<span class="t n" style="top:4.45px;right:287.5px;transform:scaleX(0.707)">3.1</span>
<span class="t n" style="top:4.45px;right:220.6px;transform:scaleX(0.792)">0.9</span>
<span class="t n" style="top:4.45px;right:138.0px;transform:scaleX(0.728)">-1.6</span>
<span class="t n" style="top:4.45px;right:70.2px;transform:scaleX(0.792)">3.0</span>
<span class="t n" style="top:4.45px;right:3.0px;transform:scaleX(0.623)">1.1</span>
</div>
<div class="r i" style="top:756.75px">
<span class="t l" style="top:4.25px;transform:scaleX(0.824)">Other household equipment</span>
<span class="t n" style="top:4.25px;right:945.6px;transform:scaleX(0.792)">8.9</span>
<span class="t n" style="top:4.25px;right:655.2px;transform:scaleX(0.707)">1.3</span>
<span class="t n" style="top:4.25px;right:587.1px;transform:scaleX(0.797)">0.55</span>
<span class="t n" style="top:4.25px;right:512.4px;transform:scaleX(0.797)">0.05</span>
<span class="t n" style="top:4.25px;right:438.8px;transform:scaleX(0.737)">0.01</span>
<span class="t n" style="top:4.25px;right:355.2px;transform:scaleX(0.796)">-3.5</span>
<span class="t n" style="top:4.25px;right:287.5px;transform:scaleX(0.707)">1.8</span>
<span class="t n" style="top:4.25px;right:220.6px;transform:scaleX(0.792)">6.7</span>
<span class="t n" style="top:4.25px;right:138.0px;transform:scaleX(0.796)">-3.7</span>
<span class="t n" style="top:4.25px;right:70.2px;transform:scaleX(0.707)">1.5</span>
<span class="t n" style="top:4.25px;right:3.0px;transform:scaleX(0.792)">8.5</span>
</div>
<div class="r i" style="top:779.94px">
<span class="t l" style="top:4.06px;transform:scaleX(0.816)">Tools &amp; hardware</span>
<span class="t n" style="top:4.06px;right:945.6px;transform:scaleX(0.737)">12.5</span>
<span class="t n" style="top:4.06px;right:655.2px;transform:scaleX(0.707)">1.2</span>
<span class="t n" style="top:4.06px;right:587.1px;transform:scaleX(0.797)">0.93</span>
<span class="t n" style="top:4.06px;right:512.4px;transform:scaleX(0.737)">0.12</span>
<span class="t n" style="top:4.06px;right:438.8px;transform:scaleX(0.737)">0.01</span>
<span class="t n" style="top:4.06px;right:355.2px;transform:scaleX(0.728)">-0.1</span>
<span class="t n" style="top:4.06px;right:287.5px;transform:scaleX(0.707)">1.0</span>
<span class="t n" style="top:4.06px;right:220.6px;transform:scaleX(0.737)">12.2</span>
<span class="t n" style="top:4.06px;right:138.0px;transform:scaleX(0.796)">-0.3</span>
<span class="t n" style="top:4.06px;right:70.2px;transform:scaleX(0.707)">1.2</span>
<span class="t n" style="top:4.06px;right:3.0px;transform:scaleX(0.737)">10.5</span>
</div>
<div class="r i" style="top:803.13px">
<span class="t l" style="top:3.87px;transform:scaleX(0.793)">Housekeeping supplies</span>
<span class="t n" style="top:3.87px;right:945.6px;transform:scaleX(0.703)">11.9</span>
<span class="t n" style="top:3.87px;right:655.2px;transform:scaleX(0.792)">0.6</span>
<span class="t n" style="top:3.87px;right:587.1px;transform:scaleX(0.797)">0.95</span>
<span class="t n" style="top:3.87px;right:512.4px;transform:scaleX(0.703)">0.11</span>
<span class="t n" style="top:3.87px;right:438.8px;transform:scaleX(0.737)">0.01</span>
<span class="t n" style="top:3.87px;right:355.2px;transform:scaleX(0.792)">0.3</span>
<span class="t n" style="top:3.87px;right:287.5px;transform:scaleX(0.707)">1.2</span>
<span class="t n" style="top:3.87px;right:220.6px;transform:scaleX(0.792)">9.7</span>
<span class="t n" style="top:3.87px;right:138.0px;transform:scaleX(0.792)">0.4</span>
<span class="t n" style="top:3.87px;right:70.2px;transform:scaleX(0.707)">1.3</span>
<span class="t n" style="top:3.87px;right:3.0px;transform:scaleX(0.792)">8.8</span>
</div>
<svg width="1280" height="828" viewBox="0 0 1280 828"><polyline points="338.1,99.8 346.5,100.3 353.5,100.6 358.8,98.0 363.1,97.3 367.5,99.4 376.2,101.2 382.9,102.5 388.5,101.0 396.4,100.1 406.0,100.1 413.0,99.4 419.1,99.4 421.4,96.2 427.0,96.8 429.6,98.0 431.7,99.4 436.6,94.5 441.0,90.1 444.9,87.2" fill="none" stroke="#000" stroke-width="1.25" stroke-linejoin="round" stroke-linecap="round"/><path d="M380.9 102.5L382.9 100.1L384.9 102.5L382.9 105.0Z" fill="#d60000"/><path d="M442.9 87.2L444.9 84.8L446.9 87.2L444.9 89.6Z" fill="#109c58"/><polyline points="449.8,102.2 456.8,101.5 465.5,102.2 476.0,102.2 483.9,101.8 487.4,98.9 490.9,97.7 497.0,98.3 504.0,98.9 511.0,99.2 516.2,101.3 519.8,101.5 525.0,99.4 532.0,96.2 539.0,93.1 546.0,89.8 554.8,87.2" fill="none" stroke="#000" stroke-width="1.25" stroke-linejoin="round" stroke-linecap="round"/><path d="M447.8 102.2L449.8 99.8L451.8 102.2L449.8 104.6Z" fill="#d60000"/><path d="M552.8 87.2L554.8 84.8L556.8 87.2L554.8 89.6Z" fill="#109c58"/><polyline points="338.1,122.5 346.5,122.8 353.5,123.4 358.8,120.8 363.1,120.2 367.5,122.5 376.2,124.2 382.9,126.2 388.5,123.9 396.4,123.2 406.0,123.2 413.0,122.5 419.1,122.8 421.4,118.7 427.0,120.4 429.6,121.1 431.7,123.2 436.6,118.1 441.0,113.8 444.9,110.2" fill="none" stroke="#000" stroke-width="1.25" stroke-linejoin="round" stroke-linecap="round"/><path d="M380.9 126.2L382.9 123.8L384.9 126.2L382.9 128.6Z" fill="#d60000"/><path d="M442.9 110.2L444.9 107.8L446.9 110.2L444.9 112.7Z" fill="#109c58"/><polyline points="449.8,126.0 455.0,125.3 458.5,125.7 466.9,126.0 476.0,126.0 483.9,125.5 487.4,121.3 490.9,120.2 497.0,121.1 504.0,121.8 511.0,122.5 516.2,125.3 519.8,125.7 525.0,122.8 532.0,119.3 539.0,116.2 546.0,112.9 554.8,110.2" fill="none" stroke="#000" stroke-width="1.25" stroke-linejoin="round" stroke-linecap="round"/><path d="M464.9 126.0L466.9 123.6L468.9 126.0L466.9 128.4Z" fill="#d60000"/><path d="M552.8 110.2L554.8 107.8L556.8 110.2L554.8 112.7Z" fill="#109c58"/><polyline points="338.1,146.7 346.5,147.0 353.5,147.9 362.2,147.0 371.0,146.7 382.9,149.1 388.5,148.4 396.4,147.9 406.0,146.7 413.0,147.3 419.1,147.0 420.9,145.6 427.0,145.2 429.6,146.1 431.7,147.9 436.6,144.4 441.0,139.1 444.9,133.3" fill="none" stroke="#000" stroke-width="1.25" stroke-linejoin="round" stroke-linecap="round"/><path d="M380.9 149.1L382.9 146.7L384.9 149.1L382.9 151.5Z" fill="#d60000"/><path d="M442.9 133.3L444.9 130.9L446.9 133.3L444.9 135.8Z" fill="#109c58"/><polyline points="449.8,148.1 458.5,147.3 469.0,147.7 476.0,148.8 483.9,149.1 487.4,146.1 497.0,145.6 507.5,145.9 511.0,146.7 515.7,149.1 519.8,148.8 525.0,146.7 532.0,144.4 539.0,141.8 546.0,138.6 554.8,133.3" fill="none" stroke="#000" stroke-width="1.25" stroke-linejoin="round" stroke-linecap="round"/><path d="M481.9 149.1L483.9 146.7L485.9 149.1L483.9 151.5Z" fill="#d60000"/><path d="M513.7 149.1L515.7 146.7L517.7 149.1L515.7 151.5Z" fill="#d60000"/><path d="M552.8 133.3L554.8 130.9L556.8 133.3L554.8 135.8Z" fill="#109c58"/><polyline points="338.1,164.9 344.8,165.8 352.6,164.9 357.0,161.4 362.2,160.0 365.8,161.4 368.4,164.9 373.6,168.4 378.0,170.5 381.0,171.9 385.9,169.6 392.0,166.1 398.1,165.2 404.2,167.0 411.2,167.3 418.2,165.2 420.4,162.6 421.8,157.4 423.5,161.8 427.9,163.5 431.4,166.7 434.0,160.9 436.6,157.4 441.0,156.5 444.9,159.5" fill="none" stroke="#000" stroke-width="1.25" stroke-linejoin="round" stroke-linecap="round"/><path d="M379.0 171.9L381.0 169.5L383.0 171.9L381.0 174.3Z" fill="#d60000"/><path d="M439.0 156.2L441.0 153.8L443.0 156.2L441.0 158.6Z" fill="#109c58"/><polyline points="449.8,170.5 456.8,171.9 462.0,171.2 469.0,170.5 476.0,169.1 483.0,168.4 486.5,163.8 490.9,158.2 494.4,163.2 500.5,164.9 507.5,165.6 512.8,165.6 516.2,169.6 518.9,170.5 520.6,169.1 522.4,165.6 526.8,161.8 532.0,158.2 539.0,157.2 544.6,156.2 550.4,159.7 554.8,160.0" fill="none" stroke="#000" stroke-width="1.25" stroke-linejoin="round" stroke-linecap="round"/><path d="M454.8 171.9L456.8 169.5L458.8 171.9L456.8 174.3Z" fill="#d60000"/><path d="M542.6 156.2L544.6 153.8L546.6 156.2L544.6 158.6Z" fill="#109c58"/><polyline points="338.1,194.1 344.8,192.9 352.6,192.9 357.0,190.1 362.2,188.5 364.9,190.6 367.5,194.1 373.6,195.9 379.8,195.0 386.8,192.9 393.8,192.9 400.8,193.6 407.8,192.9 414.8,191.2 421.8,188.9 427.0,189.8 431.4,191.8 434.9,192.4 438.4,190.6 441.9,184.5 444.9,180.1" fill="none" stroke="#000" stroke-width="1.25" stroke-linejoin="round" stroke-linecap="round"/><path d="M371.6 195.9L373.6 193.5L375.6 195.9L373.6 198.3Z" fill="#d60000"/><path d="M442.9 180.1L444.9 177.7L446.9 180.1L444.9 182.5Z" fill="#109c58"/><polyline points="449.8,195.5 458.5,194.7 469.0,193.6 479.5,191.8 488.2,190.1 493.5,190.6 500.5,191.2 507.5,191.8 512.8,193.6 518.0,195.0 525.0,195.5 530.2,194.7 535.5,193.6 540.8,189.8 546.0,185.4 550.4,182.4 554.8,180.1" fill="none" stroke="#000" stroke-width="1.25" stroke-linejoin="round" stroke-linecap="round"/><path d="M523.0 195.5L525.0 193.1L527.0 195.5L525.0 197.9Z" fill="#d60000"/><path d="M552.8 180.1L554.8 177.7L556.8 180.1L554.8 182.5Z" fill="#109c58"/><polyline points="338.1,215.1 340.4,212.5 343.9,209.0 346.5,211.6 349.1,209.9 353.5,213.9 357.0,209.9 360.5,212.5 363.1,209.9 367.5,214.6 371.0,213.4 375.4,209.3 378.9,211.6 382.4,214.2 385.4,218.6 387.6,212.5 392.0,211.6 396.4,209.3 398.1,213.4 402.5,212.2 407.8,209.3 411.2,212.8 415.6,214.2 418.2,215.1 420.9,211.6 427.0,209.9 432.2,209.0 434.9,210.8 438.4,206.4 441.0,204.1 444.9,203.2" fill="none" stroke="#000" stroke-width="1.25" stroke-linejoin="round" stroke-linecap="round"/><path d="M383.4 218.6L385.4 216.2L387.4 218.6L385.4 221.0Z" fill="#d60000"/><path d="M442.9 203.2L444.9 200.8L446.9 203.2L444.9 205.6Z" fill="#109c58"/><polyline points="449.8,215.1 455.0,211.1 458.5,213.4 465.5,215.7 470.8,216.9 476.0,218.1 483.9,219.0 488.2,215.1 493.5,212.8 502.2,212.2 511.0,211.6 518.0,212.2 524.1,213.4 530.2,212.2 535.5,209.3 542.5,204.6 547.8,205.2 554.8,203.2" fill="none" stroke="#000" stroke-width="1.25" stroke-linejoin="round" stroke-linecap="round"/><path d="M481.9 219.0L483.9 216.6L485.9 219.0L483.9 221.4Z" fill="#d60000"/><path d="M552.8 203.2L554.8 200.8L556.8 203.2L554.8 205.6Z" fill="#109c58"/><polyline points="338.1,240.0 346.5,240.5 356.1,241.9 362.2,239.1 367.5,238.4 374.5,239.6 383.2,241.0 388.5,239.6 395.5,239.1 399.9,241.4 406.0,238.8 411.2,237.3 418.2,239.1 420.0,235.2 423.5,234.4 427.0,236.6 431.4,240.0 434.9,236.6 439.2,232.6 441.9,229.1 444.0,226.5" fill="none" stroke="#000" stroke-width="1.25" stroke-linejoin="round" stroke-linecap="round"/><path d="M354.1 241.9L356.1 239.5L358.1 241.9L356.1 244.3Z" fill="#d60000"/><path d="M442.0 226.1L444.0 223.7L446.0 226.1L444.0 228.5Z" fill="#109c58"/><polyline points="449.8,239.6 458.5,238.8 465.5,240.0 472.5,239.6 481.2,241.4 486.5,236.6 493.5,235.6 500.5,236.6 504.0,237.9 509.2,236.6 514.5,239.6 518.0,241.9 525.0,239.1 532.0,236.1 537.2,235.2 542.5,232.1 547.8,228.2 552.1,226.1 554.8,226.8" fill="none" stroke="#000" stroke-width="1.25" stroke-linejoin="round" stroke-linecap="round"/><path d="M516.0 241.9L518.0 239.5L520.0 241.9L518.0 244.3Z" fill="#d60000"/><path d="M550.1 226.1L552.1 223.7L554.1 226.1L552.1 228.5Z" fill="#109c58"/><polyline points="338.1,262.4 343.0,264.1 350.0,265.0 355.2,263.8 364.0,262.9 374.5,263.6 382.9,265.0 392.0,263.6 402.5,264.1 411.2,263.6 417.4,263.6 420.0,261.1 427.0,260.6 429.6,262.4 431.4,264.5 434.9,261.5 439.2,256.2 442.8,251.9 444.9,249.2" fill="none" stroke="#000" stroke-width="1.25" stroke-linejoin="round" stroke-linecap="round"/><path d="M348.0 265.0L350.0 262.6L352.0 265.0L350.0 267.4Z" fill="#d60000"/><path d="M380.9 265.0L382.9 262.6L384.9 265.0L382.9 267.4Z" fill="#d60000"/><path d="M442.9 249.2L444.9 246.8L446.9 249.2L444.9 251.7Z" fill="#109c58"/><polyline points="449.8,265.0 458.5,264.6 464.6,265.0 472.5,265.0 481.2,264.6 486.5,261.5 493.5,261.1 500.5,261.9 507.5,261.5 512.8,262.9 518.0,265.0 523.2,264.1 530.2,260.6 537.2,258.0 544.2,254.5 549.5,251.9 554.8,249.2" fill="none" stroke="#000" stroke-width="1.25" stroke-linejoin="round" stroke-linecap="round"/><path d="M462.6 265.0L464.6 262.6L466.6 265.0L464.6 267.4Z" fill="#d60000"/><path d="M552.8 249.2L554.8 246.8L556.8 249.2L554.8 251.7Z" fill="#109c58"/><polyline points="338.1,286.0 344.8,287.7 350.4,288.6 357.0,287.4 364.0,285.6 374.5,286.5 385.0,287.0 395.5,287.0 406.0,286.0 414.8,285.1 420.9,286.0 425.2,283.9 430.5,283.4 434.9,280.9 439.2,276.4 444.9,272.9" fill="none" stroke="#000" stroke-width="1.25" stroke-linejoin="round" stroke-linecap="round"/><path d="M348.4 288.6L350.4 286.2L352.4 288.6L350.4 291.0Z" fill="#d60000"/><path d="M442.9 272.5L444.9 270.1L446.9 272.5L444.9 274.9Z" fill="#109c58"/><polyline points="449.8,288.2 462.0,287.2 472.5,287.2 486.5,288.6 493.5,286.5 502.2,285.6 514.5,285.6 521.5,283.4 528.5,281.6 535.5,278.1 542.5,275.6 549.5,273.9 554.8,272.5" fill="none" stroke="#000" stroke-width="1.25" stroke-linejoin="round" stroke-linecap="round"/><path d="M447.8 288.6L449.8 286.2L451.8 288.6L449.8 291.0Z" fill="#d60000"/><path d="M484.5 288.6L486.5 286.2L488.5 288.6L486.5 291.0Z" fill="#d60000"/><path d="M552.8 272.5L554.8 270.1L556.8 272.5L554.8 274.9Z" fill="#109c58"/><polyline points="338.1,310.6 346.5,311.0 353.1,311.5 358.8,310.6 364.0,309.6 374.5,311.0 388.5,310.6 397.2,311.4 406.0,310.5 414.8,308.4 419.1,308.9 420.9,310.6 427.0,309.6 432.2,306.6 436.6,302.2 440.1,297.9 441.9,296.1 444.9,295.8" fill="none" stroke="#000" stroke-width="1.25" stroke-linejoin="round" stroke-linecap="round"/><path d="M351.1 311.5L353.1 309.1L355.1 311.5L353.1 313.9Z" fill="#d60000"/><path d="M439.9 295.8L441.9 293.4L443.9 295.8L441.9 298.2Z" fill="#109c58"/><path d="M442.9 295.8L444.9 293.4L446.9 295.8L444.9 298.2Z" fill="#109c58"/><polyline points="449.8,311.0 458.5,310.3 469.0,308.9 479.5,309.6 486.5,311.5 489.1,311.5 500.5,311.0 511.0,310.5 518.0,307.9 526.8,304.9 533.8,301.9 540.8,298.8 547.4,296.1 554.8,295.8" fill="none" stroke="#000" stroke-width="1.25" stroke-linejoin="round" stroke-linecap="round"/><path d="M484.1 311.5L486.1 309.1L488.1 311.5L486.1 313.9Z" fill="#d60000"/><path d="M486.8 311.5L488.8 309.1L490.8 311.5L488.8 313.9Z" fill="#d60000"/><path d="M545.4 295.8L547.4 293.4L549.4 295.8L547.4 298.2Z" fill="#109c58"/><path d="M552.8 295.8L554.8 293.4L556.8 295.8L554.8 298.2Z" fill="#109c58"/><polyline points="338.1,330.2 343.0,332.9 350.0,334.6 355.2,333.4 364.0,330.2 371.0,331.1 379.8,331.6 388.5,332.9 397.2,331.1 406.0,331.6 413.0,330.6 418.2,331.1 421.8,327.6 425.2,324.6 430.5,322.4 434.9,320.6 438.4,319.4 441.0,321.1 444.9,320.6" fill="none" stroke="#000" stroke-width="1.25" stroke-linejoin="round" stroke-linecap="round"/><path d="M348.0 334.6L350.0 332.2L352.0 334.6L350.0 337.0Z" fill="#d60000"/><path d="M435.5 319.2L437.5 316.8L439.5 319.2L437.5 321.6Z" fill="#109c58"/><path d="M437.2 319.2L439.2 316.8L441.2 319.2L439.2 321.6Z" fill="#109c58"/><polyline points="449.8,334.3 458.5,333.4 467.2,334.1 476.0,334.1 481.6,334.6 486.5,332.4 493.5,328.5 500.5,325.9 507.5,324.5 512.8,323.6 518.0,324.6 525.0,322.9 530.2,321.5 534.6,319.2 539.9,319.2 543.4,321.5 547.8,320.6 554.8,321.1" fill="none" stroke="#000" stroke-width="1.25" stroke-linejoin="round" stroke-linecap="round"/><path d="M479.6 334.6L481.6 332.2L483.6 334.6L481.6 337.0Z" fill="#d60000"/><path d="M533.0 319.2L535.0 316.8L537.0 319.2L535.0 321.6Z" fill="#109c58"/><path d="M535.2 319.2L537.2 316.8L539.2 319.2L537.2 321.6Z" fill="#109c58"/><path d="M537.9 319.2L539.9 316.8L541.9 319.2L539.9 321.6Z" fill="#109c58"/><polyline points="338.1,346.5 350.0,346.0 360.5,346.5 369.2,346.9 374.5,346.0 379.8,345.1 383.2,346.4 390.2,346.9 400.8,345.6 409.5,346.4 420.0,346.5 424.4,347.8 427.9,351.2 431.4,354.8 434.9,355.6 437.5,357.9 440.1,354.8 442.8,350.9 444.1,346.0 444.9,342.1" fill="none" stroke="#000" stroke-width="1.25" stroke-linejoin="round" stroke-linecap="round"/><path d="M435.5 357.9L437.5 355.5L439.5 357.9L437.5 360.3Z" fill="#d60000"/><path d="M442.9 342.0L444.9 339.6L446.9 342.0L444.9 344.4Z" fill="#109c58"/><polyline points="449.8,346.5 469.0,346.5 488.2,346.5 493.5,347.8 502.2,348.6 507.5,350.9 512.8,354.4 516.2,354.8 519.8,353.9 525.0,356.0 528.5,357.0 535.0,357.9 539.0,356.1 543.4,354.4 547.8,353.4 551.2,349.5 553.9,345.1 554.8,342.1" fill="none" stroke="#000" stroke-width="1.25" stroke-linejoin="round" stroke-linecap="round"/><path d="M533.0 357.9L535.0 355.5L537.0 357.9L535.0 360.3Z" fill="#d60000"/><path d="M552.8 342.0L554.8 339.6L556.8 342.0L554.8 344.4Z" fill="#109c58"/><polyline points="338.1,375.4 341.2,374.0 344.8,374.9 348.2,374.0 352.6,377.1 357.0,381.4 360.5,379.2 364.0,377.1 367.5,374.9 371.0,375.4 374.5,374.0 378.0,374.0 383.2,372.2 388.5,374.9 393.8,375.8 399.0,374.9 403.4,373.1 406.0,372.6 409.5,370.5 411.2,369.6 413.9,371.9 418.2,373.1 422.6,376.1 426.1,378.4 428.8,374.9 431.4,372.2 433.1,368.8 434.9,369.6 437.5,367.9 439.2,369.1 442.2,365.6 444.9,367.9" fill="none" stroke="#000" stroke-width="1.25" stroke-linejoin="round" stroke-linecap="round"/><path d="M355.0 381.4L357.0 379.0L359.0 381.4L357.0 383.8Z" fill="#d60000"/><path d="M440.2 365.2L442.2 362.9L444.2 365.2L442.2 367.6Z" fill="#109c58"/><polyline points="449.8,374.9 455.0,374.4 458.5,371.4 461.1,372.6 465.5,370.9 469.0,372.6 476.0,374.0 484.8,374.9 490.0,377.1 495.2,379.6 500.5,380.5 504.0,381.4 506.6,381.4 511.0,379.6 516.2,376.6 519.8,372.2 524.1,368.8 528.5,369.6 532.9,369.1 535.5,371.9 539.0,370.9 542.5,370.1 547.4,365.6 551.2,367.0 554.8,368.4" fill="none" stroke="#000" stroke-width="1.25" stroke-linejoin="round" stroke-linecap="round"/><path d="M502.0 381.4L504.0 379.0L506.0 381.4L504.0 383.8Z" fill="#d60000"/><path d="M504.3 381.4L506.3 379.0L508.3 381.4L506.3 383.8Z" fill="#d60000"/><path d="M545.4 365.2L547.4 362.9L549.4 365.2L547.4 367.6Z" fill="#109c58"/><polyline points="338.1,399.9 341.2,401.1 343.9,399.9 346.5,401.6 350.0,400.4 353.5,399.9 357.9,397.2 362.2,400.4 365.8,398.6 369.2,395.5 371.9,396.4 374.5,395.1 377.1,399.0 379.8,402.5 384.6,404.6 388.5,404.6 392.0,402.1 396.4,398.1 399.4,392.9 402.5,394.1 406.0,395.5 408.1,395.9 409.9,402.1 413.0,400.4 415.6,399.0 418.2,401.1 421.8,398.6 425.2,401.6 428.8,401.1 432.2,401.1 434.9,396.4 438.4,392.4 441.0,391.6 443.1,388.9 444.1,391.1" fill="none" stroke="#000" stroke-width="1.25" stroke-linejoin="round" stroke-linecap="round"/><path d="M382.6 404.6L384.6 402.2L386.6 404.6L384.6 407.0Z" fill="#d60000"/><path d="M386.9 404.6L388.9 402.2L390.9 404.6L388.9 407.0Z" fill="#d60000"/><path d="M441.1 388.5L443.1 386.1L445.1 388.5L443.1 390.9Z" fill="#109c58"/><polyline points="449.8,398.6 455.0,397.2 456.8,401.6 459.4,404.6 463.8,402.5 470.8,401.1 476.0,402.5 483.0,402.5 490.0,400.4 493.5,402.1 497.0,400.4 501.4,403.4 509.2,402.5 516.2,402.5 518.0,400.8 520.6,403.4 525.0,399.0 528.5,398.1 532.0,394.6 537.2,393.4 541.6,392.0 546.9,392.4 549.9,388.5 554.8,389.4" fill="none" stroke="#000" stroke-width="1.25" stroke-linejoin="round" stroke-linecap="round"/><path d="M457.4 404.6L459.4 402.2L461.4 404.6L459.4 407.0Z" fill="#d60000"/><path d="M547.9 388.5L549.9 386.1L551.9 388.5L549.9 390.9Z" fill="#109c58"/><polyline points="338.1,422.6 343.0,422.1 346.5,423.1 350.0,421.8 353.5,423.1 358.8,421.4 362.2,424.4 364.0,427.5 368.4,427.0 371.0,425.6 374.5,426.1 378.0,424.4 381.5,423.1 385.9,418.6 389.4,421.4 392.0,420.0 396.4,420.9 400.8,419.1 403.4,420.0 407.8,423.9 411.2,422.6 414.8,424.4 417.4,420.9 420.0,427.0 423.5,425.6 427.0,424.4 430.5,415.6 433.1,416.9 436.6,413.9 439.2,415.6 443.1,411.8 444.9,416.5" fill="none" stroke="#000" stroke-width="1.25" stroke-linejoin="round" stroke-linecap="round"/><path d="M362.0 427.5L364.0 425.1L366.0 427.5L364.0 429.9Z" fill="#d60000"/><path d="M441.1 411.6L443.1 409.2L445.1 411.6L443.1 414.0Z" fill="#109c58"/><polyline points="449.8,424.4 456.8,422.1 463.8,423.1 470.8,423.9 477.8,421.4 481.2,421.4 484.8,424.4 488.8,427.5 495.2,426.1 502.2,425.2 508.4,423.1 512.8,419.1 517.1,415.1 521.5,416.1 526.8,416.1 532.0,413.9 537.2,415.1 541.6,415.6 546.0,413.9 549.9,411.8 552.1,413.9 554.8,416.5" fill="none" stroke="#000" stroke-width="1.25" stroke-linejoin="round" stroke-linecap="round"/><path d="M486.8 427.5L488.8 425.1L490.8 427.5L488.8 429.9Z" fill="#d60000"/><path d="M547.9 411.6L549.9 409.2L551.9 411.6L549.9 414.0Z" fill="#109c58"/><polyline points="338.1,444.9 343.0,445.4 346.5,446.2 350.0,444.9 353.5,446.2 358.8,444.5 362.2,447.6 364.0,450.6 368.4,449.8 371.0,448.4 374.5,447.1 378.0,447.6 381.5,445.9 386.2,440.6 389.4,444.1 392.0,442.8 396.4,442.8 401.1,440.6 404.2,443.6 407.8,446.6 411.2,445.4 414.8,446.6 417.4,442.8 420.0,450.1 423.5,448.4 427.0,446.6 430.5,435.8 433.1,437.5 436.6,435.4 439.2,437.5 443.1,435.2 444.9,440.6" fill="none" stroke="#000" stroke-width="1.25" stroke-linejoin="round" stroke-linecap="round"/><path d="M362.0 450.6L364.0 448.2L366.0 450.6L364.0 453.0Z" fill="#d60000"/><path d="M441.1 435.1L443.1 432.7L445.1 435.1L443.1 437.4Z" fill="#109c58"/><polyline points="449.8,446.6 456.8,444.9 463.8,445.9 470.8,446.2 477.8,443.6 481.2,444.1 484.8,447.6 488.8,450.6 495.2,448.9 502.2,448.0 508.4,445.9 512.8,441.4 517.1,436.1 521.5,437.5 526.8,437.9 532.0,435.8 537.2,437.9 541.6,438.4 546.0,436.6 549.9,435.2 552.1,437.5 554.8,440.6" fill="none" stroke="#000" stroke-width="1.25" stroke-linejoin="round" stroke-linecap="round"/><path d="M486.8 450.6L488.8 448.2L490.8 450.6L488.8 453.0Z" fill="#d60000"/><path d="M547.9 435.1L549.9 432.7L551.9 435.1L549.9 437.4Z" fill="#109c58"/><polyline points="338.1,470.8 344.8,469.9 348.2,470.4 353.5,468.6 358.8,469.0 362.2,471.1 364.9,474.2 370.1,473.9 374.5,473.4 379.8,470.8 385.9,466.9 390.2,467.6 395.5,467.2 400.8,466.4 404.2,467.6 407.8,470.4 413.0,469.9 415.6,471.6 417.4,469.9 420.9,473.4 425.2,472.1 427.9,469.9 431.4,464.6 434.0,465.5 436.6,462.0 438.4,463.4 441.9,458.5 444.9,462.5" fill="none" stroke="#000" stroke-width="1.25" stroke-linejoin="round" stroke-linecap="round"/><path d="M362.9 474.2L364.9 471.9L366.9 474.2L364.9 476.6Z" fill="#d60000"/><path d="M439.9 458.1L441.9 455.8L443.9 458.1L441.9 460.5Z" fill="#109c58"/><polyline points="449.8,471.1 458.5,470.2 469.0,471.1 476.0,469.9 479.5,470.4 484.8,472.5 488.8,474.2 497.0,473.0 504.0,472.5 509.2,470.8 514.5,466.9 519.8,464.6 525.0,465.5 530.2,462.9 535.5,463.8 539.9,465.1 543.4,462.0 547.4,458.5 551.2,461.1 554.8,462.5" fill="none" stroke="#000" stroke-width="1.25" stroke-linejoin="round" stroke-linecap="round"/><path d="M486.8 474.2L488.8 471.9L490.8 474.2L488.8 476.6Z" fill="#d60000"/><path d="M545.4 458.1L547.4 455.8L549.4 458.1L547.4 460.5Z" fill="#109c58"/><polyline points="338.1,490.9 343.0,490.4 346.5,492.1 350.0,490.9 353.5,492.1 358.8,490.5 362.2,493.5 364.0,497.0 368.4,496.1 371.0,494.9 374.5,493.9 378.0,494.4 381.5,492.1 386.2,486.9 389.4,490.9 392.0,489.1 396.4,489.6 401.1,486.9 404.2,490.0 407.8,492.6 411.2,491.4 414.8,493.1 417.4,489.6 420.4,497.0 423.5,495.2 427.0,493.5 430.5,482.6 433.1,484.4 436.6,482.1 439.2,484.4 443.1,481.6 444.9,487.4" fill="none" stroke="#000" stroke-width="1.25" stroke-linejoin="round" stroke-linecap="round"/><path d="M362.0 497.0L364.0 494.6L366.0 497.0L364.0 499.4Z" fill="#d60000"/><path d="M441.1 481.2L443.1 478.9L445.1 481.2L443.1 483.6Z" fill="#109c58"/><polyline points="449.8,493.5 456.8,491.4 463.8,492.1 470.8,493.1 477.8,490.4 481.2,490.4 484.8,493.9 488.8,497.0 495.2,495.6 502.2,494.9 508.4,492.6 512.8,487.9 517.1,482.6 521.5,484.4 526.8,484.4 532.0,481.6 537.2,484.4 541.6,485.1 546.0,483.4 549.9,481.6 552.1,483.9 554.8,487.4" fill="none" stroke="#000" stroke-width="1.25" stroke-linejoin="round" stroke-linecap="round"/><path d="M486.8 497.0L488.8 494.6L490.8 497.0L488.8 499.4Z" fill="#d60000"/><path d="M547.9 481.2L549.9 478.9L551.9 481.2L549.9 483.6Z" fill="#109c58"/><polyline points="338.1,513.6 343.0,513.2 346.5,515.0 350.0,513.6 353.5,515.0 358.8,513.2 362.2,516.4 364.0,519.9 368.4,519.0 371.0,517.6 374.5,516.8 378.0,517.3 381.5,515.0 386.2,509.4 389.4,513.6 392.0,511.9 396.4,512.4 401.1,509.8 404.2,512.9 407.8,515.9 411.2,514.1 414.8,515.9 417.4,512.4 420.4,519.9 423.5,518.1 427.0,516.4 430.5,504.9 433.1,507.1 436.6,504.9 439.2,507.1 443.1,504.5 444.9,510.1" fill="none" stroke="#000" stroke-width="1.25" stroke-linejoin="round" stroke-linecap="round"/><path d="M362.0 519.9L364.0 517.5L366.0 519.9L364.0 522.3Z" fill="#d60000"/><path d="M441.1 504.1L443.1 501.8L445.1 504.1L443.1 506.5Z" fill="#109c58"/><polyline points="449.8,516.4 456.8,514.1 463.8,515.0 470.8,515.9 477.8,512.9 481.2,513.2 484.8,516.8 488.8,519.9 495.2,518.5 502.2,517.6 508.4,515.4 512.8,510.6 517.1,505.4 521.5,507.1 526.8,507.1 532.0,504.5 537.2,507.1 541.6,508.0 546.0,506.2 549.9,504.5 552.1,506.6 554.8,510.1" fill="none" stroke="#000" stroke-width="1.25" stroke-linejoin="round" stroke-linecap="round"/><path d="M486.8 519.9L488.8 517.5L490.8 519.9L488.8 522.3Z" fill="#d60000"/><path d="M547.9 504.1L549.9 501.8L551.9 504.1L549.9 506.5Z" fill="#109c58"/><polyline points="338.1,538.1 344.8,537.8 350.0,538.6 357.0,537.8 361.4,538.6 364.9,542.1 371.0,543.4 376.2,542.1 381.5,539.1 386.2,534.2 390.2,537.8 394.6,536.0 400.8,534.2 406.0,537.4 413.0,539.5 417.4,537.8 420.9,541.2 426.1,541.6 428.8,537.8 431.4,534.2 434.9,531.6 437.5,529.4 439.2,531.1 443.1,527.6 444.9,531.1" fill="none" stroke="#000" stroke-width="1.25" stroke-linejoin="round" stroke-linecap="round"/><path d="M369.0 543.4L371.0 541.0L373.0 543.4L371.0 545.8Z" fill="#d60000"/><path d="M441.1 527.4L443.1 525.0L445.1 527.4L443.1 529.8Z" fill="#109c58"/><polyline points="449.8,539.9 456.8,539.9 463.8,540.9 470.8,540.9 477.8,539.9 483.0,540.9 488.8,543.4 497.0,543.0 504.0,543.0 509.2,541.2 514.5,536.9 519.8,534.2 526.8,533.4 532.0,531.1 535.5,532.5 539.9,533.4 543.4,530.8 549.9,527.6 553.0,529.9 554.8,531.6" fill="none" stroke="#000" stroke-width="1.25" stroke-linejoin="round" stroke-linecap="round"/><path d="M486.8 543.4L488.8 541.0L490.8 543.4L488.8 545.8Z" fill="#d60000"/><path d="M547.9 527.4L549.9 525.0L551.9 527.4L549.9 529.8Z" fill="#109c58"/><polyline points="338.1,566.6 342.1,564.0 346.5,560.9 350.9,561.9 355.2,559.1 357.9,561.4 362.2,561.9 366.6,564.9 371.0,566.6 374.5,567.0 379.8,564.4 385.0,561.9 389.4,561.4 395.5,562.6 401.6,564.4 406.0,563.1 411.2,564.4 418.2,564.4 423.5,563.6 428.8,561.4 434.0,558.4 438.4,555.6 441.9,553.5 444.9,551.2" fill="none" stroke="#000" stroke-width="1.25" stroke-linejoin="round" stroke-linecap="round"/><path d="M372.5 567.0L374.5 564.6L376.5 567.0L374.5 569.4Z" fill="#d60000"/><path d="M442.9 551.2L444.9 548.8L446.9 551.2L444.9 553.6Z" fill="#109c58"/><polyline points="449.8,566.1 458.5,567.0 467.2,566.6 476.5,567.0 486.5,566.6 495.2,566.6 504.0,564.9 512.8,563.1 521.5,561.0 530.2,558.4 537.2,556.1 544.2,555.2 550.4,551.8 554.8,551.2" fill="none" stroke="#000" stroke-width="1.25" stroke-linejoin="round" stroke-linecap="round"/><path d="M474.5 567.0L476.5 564.6L478.5 567.0L476.5 569.4Z" fill="#d60000"/><path d="M552.8 551.2L554.8 548.8L556.8 551.2L554.8 553.6Z" fill="#109c58"/><polyline points="338.1,588.5 344.8,586.4 350.9,584.6 356.1,583.2 360.5,585.0 364.9,585.4 368.4,587.6 375.4,589.9 381.5,587.6 387.6,585.4 393.8,585.5 399.9,587.1 406.0,586.4 413.0,587.1 420.0,587.6 427.0,586.4 432.2,584.6 437.5,581.9 441.0,578.9 444.9,574.5" fill="none" stroke="#000" stroke-width="1.25" stroke-linejoin="round" stroke-linecap="round"/><path d="M373.4 589.9L375.4 587.5L377.4 589.9L375.4 592.3Z" fill="#d60000"/><path d="M442.9 574.1L444.9 571.8L446.9 574.1L444.9 576.5Z" fill="#109c58"/><polyline points="449.8,589.7 462.0,590.2 476.5,589.9 486.5,590.2 495.2,590.2 504.0,588.5 512.8,587.1 521.5,585.4 528.5,584.1 534.6,582.4 537.2,579.4 539.9,580.6 544.2,578.9 549.5,576.6 554.8,574.1" fill="none" stroke="#000" stroke-width="1.25" stroke-linejoin="round" stroke-linecap="round"/><path d="M474.5 590.2L476.5 587.9L478.5 590.2L476.5 592.6Z" fill="#d60000"/><path d="M552.8 574.1L554.8 571.8L556.8 574.1L554.8 576.5Z" fill="#109c58"/><polyline points="338.1,612.1 342.1,609.5 346.5,604.6 350.0,607.4 353.5,607.8 355.2,603.9 357.9,606.4 363.1,606.9 364.9,610.9 367.0,613.0 371.0,611.6 373.6,612.6 379.8,608.6 385.9,605.1 389.4,605.1 393.8,607.4 400.8,608.1 406.0,607.4 411.2,609.5 418.2,609.1 423.5,608.1 428.8,606.0 433.1,602.9 436.1,600.4 439.2,601.6 443.1,597.6 444.9,599.4" fill="none" stroke="#000" stroke-width="1.25" stroke-linejoin="round" stroke-linecap="round"/><path d="M365.0 613.0L367.0 610.6L369.0 613.0L367.0 615.4Z" fill="#d60000"/><path d="M441.1 597.2L443.1 594.9L445.1 597.2L443.1 599.6Z" fill="#109c58"/><polyline points="449.8,610.4 453.2,612.5 460.2,613.0 466.9,613.0 476.5,613.0 484.8,612.6 493.5,611.6 502.2,610.9 511.0,609.1 518.0,606.9 525.0,604.2 529.9,601.1 535.5,602.1 540.8,602.5 545.1,602.9 549.9,597.2 552.1,600.8 554.8,599.4" fill="none" stroke="#000" stroke-width="1.25" stroke-linejoin="round" stroke-linecap="round"/><path d="M464.9 613.0L466.9 610.6L468.9 613.0L466.9 615.4Z" fill="#d60000"/><path d="M474.5 613.0L476.5 610.6L478.5 613.0L476.5 615.4Z" fill="#d60000"/><path d="M547.9 597.2L549.9 594.9L551.9 597.2L549.9 599.6Z" fill="#109c58"/><polyline points="338.1,633.6 346.5,634.5 357.0,634.1 367.5,634.1 376.2,633.1 385.0,633.1 392.0,634.5 402.5,633.1 413.0,633.1 419.1,633.1 421.2,635.9 425.2,634.1 428.8,635.4 431.4,626.6 434.0,625.8 437.5,621.4 440.5,620.1 443.1,621.4 444.9,620.5" fill="none" stroke="#000" stroke-width="1.25" stroke-linejoin="round" stroke-linecap="round"/><path d="M419.2 635.9L421.2 633.5L423.2 635.9L421.2 638.3Z" fill="#d60000"/><path d="M438.5 620.1L440.5 617.8L442.5 620.1L440.5 622.5Z" fill="#109c58"/><polyline points="449.8,633.6 462.0,633.6 472.5,632.8 483.0,632.8 488.8,635.9 491.4,635.9 500.5,634.5 511.0,635.4 516.2,630.1 521.5,626.1 526.8,627.1 532.0,625.4 537.2,622.2 542.5,620.1 547.8,621.4 551.2,621.9 554.8,620.5" fill="none" stroke="#000" stroke-width="1.25" stroke-linejoin="round" stroke-linecap="round"/><path d="M486.8 635.9L488.8 633.5L490.8 635.9L488.8 638.3Z" fill="#d60000"/><path d="M489.2 635.9L491.2 633.5L493.2 635.9L491.2 638.3Z" fill="#d60000"/><path d="M540.5 620.1L542.5 617.8L544.5 620.1L542.5 622.5Z" fill="#109c58"/><polyline points="338.1,657.6 346.5,659.0 357.0,659.0 367.5,659.5 376.2,659.0 385.0,659.0 395.5,659.5 406.0,658.6 413.0,658.1 418.2,658.5 421.8,659.9 425.2,657.6 429.6,654.6 431.9,648.5 434.0,649.4 436.6,647.1 439.2,643.8 441.9,648.5 444.9,650.2" fill="none" stroke="#000" stroke-width="1.25" stroke-linejoin="round" stroke-linecap="round"/><path d="M419.8 659.9L421.8 657.5L423.8 659.9L421.8 662.3Z" fill="#d60000"/><path d="M437.2 643.6L439.2 641.2L441.2 643.6L439.2 646.0Z" fill="#109c58"/><polyline points="449.8,659.0 458.5,659.0 469.0,657.6 479.5,658.6 486.5,659.4 491.2,659.9 500.5,657.6 511.0,656.4 516.2,652.0 521.5,647.6 526.8,649.4 532.0,647.6 539.9,643.8 544.2,646.8 549.5,649.9 554.8,650.2" fill="none" stroke="#000" stroke-width="1.25" stroke-linejoin="round" stroke-linecap="round"/><path d="M489.2 659.9L491.2 657.5L493.2 659.9L491.2 662.3Z" fill="#d60000"/><path d="M537.9 643.6L539.9 641.2L541.9 643.6L539.9 646.0Z" fill="#109c58"/><polyline points="338.1,680.0 346.5,681.4 357.4,683.0 367.5,681.4 376.2,682.1 386.8,682.1 397.2,681.4 406.0,678.2 413.0,677.9 417.4,679.6 422.6,677.4 427.0,676.1 431.4,676.5 434.9,673.9 438.4,668.6 440.5,666.9 443.6,667.2 444.9,667.2" fill="none" stroke="#000" stroke-width="1.25" stroke-linejoin="round" stroke-linecap="round"/><path d="M355.4 683.0L357.4 680.6L359.4 683.0L357.4 685.4Z" fill="#d60000"/><path d="M438.5 667.2L440.5 664.8L442.5 667.2L440.5 669.6Z" fill="#109c58"/><path d="M441.6 667.2L443.6 664.8L445.6 667.2L443.6 669.6Z" fill="#109c58"/><polyline points="449.8,680.4 453.2,680.0 456.8,681.4 463.8,680.0 470.8,680.4 477.8,682.1 483.9,683.0 490.0,680.4 497.0,679.1 504.0,678.2 511.0,678.6 518.0,677.4 524.1,678.2 530.2,673.9 537.2,669.5 542.5,666.9 547.8,668.3 552.1,667.2 554.8,667.8" fill="none" stroke="#000" stroke-width="1.25" stroke-linejoin="round" stroke-linecap="round"/><path d="M481.9 683.0L483.9 680.6L485.9 683.0L483.9 685.4Z" fill="#d60000"/><path d="M540.5 667.2L542.5 664.8L544.5 667.2L542.5 669.6Z" fill="#109c58"/><path d="M550.1 667.2L552.1 664.8L554.1 667.2L552.1 669.6Z" fill="#109c58"/><polyline points="338.1,704.5 344.8,703.6 348.2,702.8 352.6,703.6 358.8,701.0 364.0,702.8 369.2,705.9 372.8,702.4 375.4,701.4 378.9,703.6 382.4,699.6 384.5,705.9 387.6,702.8 392.0,705.4 396.4,699.6 399.9,701.0 405.1,698.4 408.6,703.6 412.1,699.6 414.8,705.4 418.2,697.9 421.8,696.6 425.2,697.5 427.9,703.6 431.4,702.8 434.0,697.5 437.5,690.5 440.5,692.6 442.8,691.4 444.9,692.6" fill="none" stroke="#000" stroke-width="1.25" stroke-linejoin="round" stroke-linecap="round"/><path d="M367.2 705.9L369.2 703.5L371.2 705.9L369.2 708.3Z" fill="#d60000"/><path d="M382.5 705.9L384.5 703.5L386.5 705.9L384.5 708.3Z" fill="#d60000"/><path d="M435.5 690.0L437.5 687.6L439.5 690.0L437.5 692.4Z" fill="#109c58"/><polyline points="449.8,701.9 452.4,704.1 456.8,702.8 462.0,702.8 466.4,699.6 469.0,701.4 472.0,705.9 476.0,702.8 481.2,697.9 486.5,698.9 490.9,696.1 493.5,697.9 501.4,697.9 505.8,701.4 511.0,704.5 516.2,703.1 521.5,700.1 525.0,698.9 528.5,695.4 535.0,690.1 539.0,692.2 543.4,690.9 549.5,693.1 554.8,692.2" fill="none" stroke="#000" stroke-width="1.25" stroke-linejoin="round" stroke-linecap="round"/><path d="M470.0 705.9L472.0 703.5L474.0 705.9L472.0 708.3Z" fill="#d60000"/><path d="M533.0 690.0L535.0 687.6L537.0 690.0L535.0 692.4Z" fill="#109c58"/><polyline points="338.1,725.5 344.8,726.9 353.5,728.1 359.6,729.0 365.8,726.9 371.0,726.9 379.8,728.5 386.8,727.6 393.8,726.4 400.8,726.4 406.0,724.6 411.2,723.4 415.6,724.6 419.1,726.4 421.8,727.6 427.0,725.1 431.4,719.4 434.9,717.6 439.2,713.6 441.9,715.9 444.9,716.4" fill="none" stroke="#000" stroke-width="1.25" stroke-linejoin="round" stroke-linecap="round"/><path d="M357.6 729.0L359.6 726.6L361.6 729.0L359.6 731.4Z" fill="#d60000"/><path d="M437.2 713.2L439.2 710.9L441.2 713.2L439.2 715.6Z" fill="#109c58"/><polyline points="449.8,726.4 456.8,724.6 463.8,724.1 470.8,725.5 477.8,726.4 486.5,728.1 493.5,729.0 500.5,726.4 505.8,723.8 511.0,724.1 516.2,720.2 523.2,718.9 530.2,717.1 535.5,715.9 539.9,713.2 544.2,715.4 548.6,716.4 552.1,715.4 554.8,716.8" fill="none" stroke="#000" stroke-width="1.25" stroke-linejoin="round" stroke-linecap="round"/><path d="M491.5 729.0L493.5 726.6L495.5 729.0L493.5 731.4Z" fill="#d60000"/><path d="M537.9 713.2L539.9 710.9L541.9 713.2L539.9 715.6Z" fill="#109c58"/><polyline points="338.1,745.6 341.2,743.9 344.8,747.9 350.0,750.1 357.5,752.6 362.2,751.4 367.5,750.5 372.8,750.9 378.0,750.1 384.1,751.4 388.5,749.6 393.8,747.4 397.2,748.4 400.8,744.9 404.2,740.9 407.4,738.6 410.4,743.1 413.9,746.6 417.4,748.4 420.9,743.5 423.5,739.1 427.0,740.0 430.5,737.4 434.0,740.9 438.7,736.5 441.9,737.9 444.9,743.1" fill="none" stroke="#000" stroke-width="1.25" stroke-linejoin="round" stroke-linecap="round"/><path d="M355.5 752.6L357.5 750.2L359.5 752.6L357.5 755.0Z" fill="#d60000"/><path d="M436.7 736.3L438.7 733.9L440.7 736.3L438.7 738.7Z" fill="#109c58"/><polyline points="449.8,739.6 453.2,739.6 458.5,745.2 463.8,748.4 469.0,750.1 474.2,750.1 479.1,752.6 484.8,749.1 490.0,745.2 493.5,742.1 496.1,739.6 498.8,743.1 504.0,740.4 509.2,739.6 512.8,737.9 518.0,740.0 525.0,743.1 528.5,739.1 532.9,741.8 537.6,736.5 541.6,738.2 546.0,738.2 550.4,740.4 554.8,744.9" fill="none" stroke="#000" stroke-width="1.25" stroke-linejoin="round" stroke-linecap="round"/><path d="M477.1 752.6L479.1 750.2L481.1 752.6L479.1 755.0Z" fill="#d60000"/><path d="M535.6 736.3L537.6 733.9L539.6 736.3L537.6 738.7Z" fill="#109c58"/><polyline points="338.1,771.9 344.8,770.6 350.0,772.4 355.2,773.2 360.5,771.9 365.8,770.6 372.8,770.6 379.8,771.1 385.0,772.9 390.2,773.6 393.8,775.5 397.2,773.6 400.4,775.5 403.4,771.5 406.9,772.4 410.4,768.9 413.9,770.1 417.4,771.9 420.9,768.0 424.4,769.8 428.8,764.5 432.2,766.2 434.9,767.1 437.5,763.6 440.5,759.8 441.9,761.9 444.9,760.6" fill="none" stroke="#000" stroke-width="1.25" stroke-linejoin="round" stroke-linecap="round"/><path d="M398.4 775.5L400.4 773.1L402.4 775.5L400.4 777.9Z" fill="#d60000"/><path d="M438.5 759.6L440.5 757.2L442.5 759.6L440.5 762.0Z" fill="#109c58"/><polyline points="449.8,774.1 453.2,772.4 457.1,775.5 462.0,771.9 469.0,770.6 476.0,772.4 482.1,775.5 486.5,772.4 491.8,772.9 497.0,769.4 500.5,771.9 505.8,768.9 511.0,765.9 516.2,767.1 521.5,768.9 525.9,770.6 530.2,767.6 535.5,764.5 539.0,763.1 542.5,759.8 546.9,764.1 550.4,761.9 554.8,761.4" fill="none" stroke="#000" stroke-width="1.25" stroke-linejoin="round" stroke-linecap="round"/><path d="M455.1 775.5L457.1 773.1L459.1 775.5L457.1 777.9Z" fill="#d60000"/><path d="M540.5 759.6L542.5 757.2L544.5 759.6L542.5 762.0Z" fill="#109c58"/><polyline points="338.1,796.9 344.8,796.4 348.2,795.6 353.5,796.9 358.8,798.1 364.0,797.4 367.5,795.6 372.8,796.9 378.0,798.6 385.0,796.9 392.0,797.4 397.2,796.9 404.2,795.1 407.8,793.9 411.2,795.6 414.8,793.4 418.2,795.6 422.6,792.9 425.2,794.2 427.0,792.5 429.6,794.2 434.0,793.4 436.6,788.1 439.2,783.8 441.9,784.3 444.9,783.0" fill="none" stroke="#000" stroke-width="1.25" stroke-linejoin="round" stroke-linecap="round"/><path d="M376.0 798.6L378.0 796.2L380.0 798.6L378.0 801.0Z" fill="#d60000"/><path d="M442.9 782.9L444.9 780.5L446.9 782.9L444.9 785.3Z" fill="#109c58"/><polyline points="449.8,796.0 456.8,797.4 463.8,796.0 469.9,794.2 476.0,796.4 481.6,798.6 486.5,795.6 493.5,794.2 498.8,796.0 504.0,793.4 509.2,796.0 514.5,795.1 519.8,794.6 526.8,793.9 530.2,789.9 535.5,787.6 539.0,784.1 546.0,783.4 551.2,784.1 554.8,783.0" fill="none" stroke="#000" stroke-width="1.25" stroke-linejoin="round" stroke-linecap="round"/><path d="M479.6 798.6L481.6 796.2L483.6 798.6L481.6 801.0Z" fill="#d60000"/><path d="M552.8 782.9L554.8 780.5L556.8 782.9L554.8 785.3Z" fill="#109c58"/><polyline points="338.1,817.9 344.8,820.0 353.5,820.9 362.2,820.5 371.0,820.0 379.8,819.6 388.5,820.5 394.3,821.7 400.8,819.1 406.0,816.6 411.2,817.0 415.6,818.8 419.1,819.6 421.8,814.4 425.2,813.1 427.9,813.9 431.4,819.1 434.0,820.0 436.6,817.9 439.2,811.8 442.8,807.4 444.9,806.1" fill="none" stroke="#000" stroke-width="1.25" stroke-linejoin="round" stroke-linecap="round"/><path d="M392.3 821.7L394.3 819.3L396.3 821.7L394.3 824.1Z" fill="#d60000"/><path d="M442.9 806.1L444.9 803.8L446.9 806.1L444.9 808.5Z" fill="#109c58"/><polyline points="449.8,818.2 456.8,817.9 463.8,819.1 472.5,820.1 479.5,820.9 483.9,821.4 487.4,817.4 493.5,814.4 500.5,814.9 506.6,814.4 511.0,817.4 516.2,820.1 522.9,821.7 528.5,819.1 533.8,819.6 539.0,815.2 543.4,811.4 549.5,808.6 554.8,806.1" fill="none" stroke="#000" stroke-width="1.25" stroke-linejoin="round" stroke-linecap="round"/><path d="M520.9 821.7L522.9 819.3L524.9 821.7L522.9 824.1Z" fill="#d60000"/><path d="M552.8 806.1L554.8 803.8L556.8 806.1L554.8 808.5Z" fill="#109c58"/><rect x="0" y="826.9" width="1280.00" height="1.10" fill="#d2d2d2"/><rect x="0" y="6.0" width="1280.00" height="2.10" fill="#000"/><rect x="0" y="32.75" width="1279.30" height="1.95" fill="#000"/><rect x="0" y="82.9" width="1279.30" height="2.10" fill="#000"/><rect x="0" y="407.9" width="1279.30" height="1.40" fill="#000"/><rect x="0" y="616.9" width="1279.30" height="2.00" fill="#000"/><rect x="0" y="825.2" width="1280.00" height="1.75" fill="#000"/><rect x="0" y="6" width="1.00" height="821.00" fill="#000"/><rect x="1278.1" y="6" width="1.90" height="28.00" fill="#000"/><rect x="1278.15" y="34" width="1.05" height="793.00" fill="#000"/><rect x="335.9" y="34" width="1.30" height="792.00" fill="#000"/><rect x="557.7" y="34" width="1.20" height="792.00" fill="#000"/><rect x="626.0" y="7" width="2.05" height="819.00" fill="#000"/><rect x="843.0" y="7" width="2.05" height="819.00" fill="#000"/><rect x="1060.4" y="7" width="1.80" height="819.00" fill="#000"/></svg>
<div class="h" style="font-size:14.0px;right:1033.8px;top:52.00px;transform:scaleX(0.768)">US INFLATION COMPONENT BREAKDOWN</div>
<div class="h" style="font-size:14.0px;right:945.7px;top:41.00px;transform:scaleX(0.790)">y/y %</div>
<div class="h" style="font-size:14.0px;right:945.7px;top:61.00px;transform:scaleX(0.745)">change</div>
<div class="h" style="font-size:14.0px;right:834.7px;top:52.00px;transform:scaleX(0.799)">10-year trend</div>
<div class="h" style="font-size:14.0px;right:724.2px;top:41.00px;transform:scaleX(0.781)">Pandemic trend</div>
<div class="h" style="font-size:14.0px;right:724.2px;top:61.00px;transform:scaleX(0.786)">(Jan 2019–Present)</div>
<div class="h" style="font-size:14.0px;right:655.2px;top:41.00px;transform:scaleX(0.833)">m/m %</div>
<div class="h" style="font-size:14.0px;right:655.2px;top:61.00px;transform:scaleX(0.751)">change</div>
<div class="h" style="font-size:14.0px;right:587.0px;top:41.00px;transform:scaleX(0.793)">Weights</div>
<div class="h" style="font-size:14.0px;right:587.2px;top:61.00px;transform:scaleX(0.785)">(%)</div>
<div class="h" style="font-size:14.0px;right:512.2px;top:52.00px;transform:scaleX(0.976)">y/y</div>
<div class="h" style="font-size:14.0px;right:438.2px;top:52.00px;transform:scaleX(0.754)">m/m</div>
<div class="h" style="font-size:14.0px;right:355.0px;top:41.00px;transform:scaleX(0.796)">2015–2019</div>
<div class="h" style="font-size:14.0px;right:355.0px;top:61.00px;transform:scaleX(0.802)">avg. y/y</div>
<div class="h" style="font-size:14.0px;right:288.0px;top:52.00px;transform:scaleX(0.780)">Std. Dev.</div>
<div class="h" style="font-size:14.0px;right:220.6px;top:52.00px;transform:scaleX(0.775)">Z-Score</div>
<div class="h" style="font-size:14.0px;right:137.8px;top:41.00px;transform:scaleX(0.767)">2011–2019 avg.</div>
<div class="h" style="font-size:14.0px;right:137.8px;top:61.00px;transform:scaleX(0.914)">y/y</div>
<div class="h" style="font-size:14.0px;right:70.3px;top:52.00px;transform:scaleX(0.781)">Std. Dev.</div>
<div class="h" style="font-size:14.0px;right:3.5px;top:52.00px;transform:scaleX(0.783)">Z-Score</div>
<div class="h1" style="font-size:16.0px;left:3.0px;top:12.00px;transform-origin:0 50%;transform:scaleX(0.774)">Sep 2022</div>
<div class="h1" style="font-size:15.5px;font-weight:bold;left:536px;width:400px;text-align:center;top:12.00px;transform:scaleX(0.806)">Weighted Contributions (ppts)*</div>
<div class="h1" style="font-size:15.5px;font-weight:bold;left:753.2px;width:400px;text-align:center;top:12.00px;transform:scaleX(0.796)">5-Year Pre-Pandemic</div>
<div class="h1" style="font-size:15.5px;font-weight:bold;left:970.5px;width:400px;text-align:center;top:12.00px;transform:scaleX(0.808)">10-Year Pre-Pandemic</div>
</body></html>
